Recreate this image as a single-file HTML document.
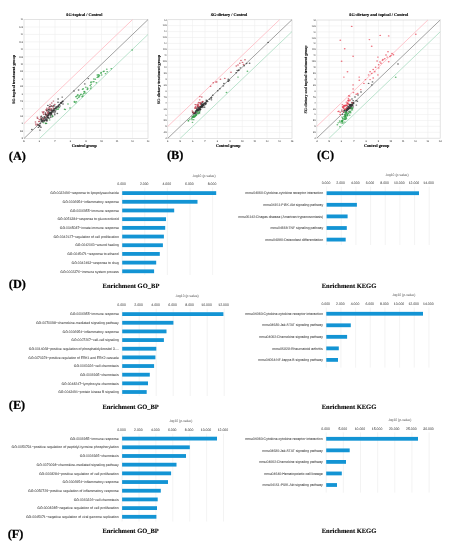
<!DOCTYPE html>
<html><head><meta charset="utf-8"><title>Figure</title>
<style>html,body{margin:0;padding:0;background:#fff;width:452px;height:550px;overflow:hidden}svg{display:block;filter:blur(0.25px)}text{text-rendering:geometricPrecision}</style>
</head><body>
<svg width="452" height="550" viewBox="0 0 452 550">
<rect width="452" height="550" fill="#fff"/>
<g stroke="#eeeeee" stroke-width="0.6">
<line x1="39.50" y1="19.6" x2="39.50" y2="138.5"/>
<line x1="55.00" y1="19.6" x2="55.00" y2="138.5"/>
<line x1="70.50" y1="19.6" x2="70.50" y2="138.5"/>
<line x1="86.00" y1="19.6" x2="86.00" y2="138.5"/>
<line x1="101.50" y1="19.6" x2="101.50" y2="138.5"/>
<line x1="117.00" y1="19.6" x2="117.00" y2="138.5"/>
<line x1="132.50" y1="19.6" x2="132.50" y2="138.5"/>
<line x1="24" y1="27.03" x2="148" y2="27.03"/>
<line x1="24" y1="34.46" x2="148" y2="34.46"/>
<line x1="24" y1="41.89" x2="148" y2="41.89"/>
<line x1="24" y1="49.33" x2="148" y2="49.33"/>
<line x1="24" y1="56.76" x2="148" y2="56.76"/>
<line x1="24" y1="64.19" x2="148" y2="64.19"/>
<line x1="24" y1="71.62" x2="148" y2="71.62"/>
<line x1="24" y1="79.05" x2="148" y2="79.05"/>
<line x1="24" y1="86.48" x2="148" y2="86.48"/>
<line x1="24" y1="93.91" x2="148" y2="93.91"/>
<line x1="24" y1="101.34" x2="148" y2="101.34"/>
<line x1="24" y1="108.78" x2="148" y2="108.78"/>
<line x1="24" y1="116.21" x2="148" y2="116.21"/>
<line x1="24" y1="123.64" x2="148" y2="123.64"/>
<line x1="24" y1="131.07" x2="148" y2="131.07"/>
</g>
<rect x="24" y="19.6" width="124" height="118.9" fill="none" stroke="#d8d8d8" stroke-width="0.7"/>
<line x1="24" y1="138.5" x2="148" y2="19.6" stroke="#8a8a8a" stroke-width="0.8"/>
<line x1="24" y1="123.64" x2="132.50" y2="19.6" stroke="#ffb8c0" stroke-width="0.8"/>
<line x1="39.50" y1="138.5" x2="148" y2="34.46" stroke="#a8dcc0" stroke-width="0.8"/>
<ellipse cx="47.61" cy="115.54" rx="0.9" ry="0.68" fill="#333333" fill-opacity="0.75"/>
<ellipse cx="47.75" cy="117.37" rx="0.9" ry="0.68" fill="#333333" fill-opacity="0.75"/>
<ellipse cx="44.48" cy="120.27" rx="0.9" ry="0.68" fill="#333333" fill-opacity="0.75"/>
<ellipse cx="53.97" cy="109.65" rx="0.9" ry="0.68" fill="#333333" fill-opacity="0.75"/>
<ellipse cx="53.62" cy="110.40" rx="0.9" ry="0.68" fill="#333333" fill-opacity="0.75"/>
<ellipse cx="50.64" cy="113.42" rx="0.9" ry="0.68" fill="#333333" fill-opacity="0.75"/>
<ellipse cx="41.05" cy="121.01" rx="0.9" ry="0.68" fill="#333333" fill-opacity="0.75"/>
<ellipse cx="51.15" cy="112.17" rx="0.9" ry="0.68" fill="#333333" fill-opacity="0.75"/>
<ellipse cx="40.94" cy="127.30" rx="0.9" ry="0.68" fill="#333333" fill-opacity="0.75"/>
<ellipse cx="44.66" cy="120.69" rx="0.9" ry="0.68" fill="#333333" fill-opacity="0.75"/>
<ellipse cx="50.22" cy="114.36" rx="0.9" ry="0.68" fill="#333333" fill-opacity="0.75"/>
<ellipse cx="51.22" cy="114.82" rx="0.9" ry="0.68" fill="#333333" fill-opacity="0.75"/>
<ellipse cx="50.24" cy="113.30" rx="0.9" ry="0.68" fill="#333333" fill-opacity="0.75"/>
<ellipse cx="45.73" cy="114.48" rx="0.9" ry="0.68" fill="#333333" fill-opacity="0.75"/>
<ellipse cx="51.39" cy="110.29" rx="0.9" ry="0.68" fill="#333333" fill-opacity="0.75"/>
<ellipse cx="45.92" cy="120.14" rx="0.9" ry="0.68" fill="#333333" fill-opacity="0.75"/>
<ellipse cx="47.20" cy="117.40" rx="0.9" ry="0.68" fill="#333333" fill-opacity="0.75"/>
<ellipse cx="51.74" cy="112.21" rx="0.9" ry="0.68" fill="#333333" fill-opacity="0.75"/>
<ellipse cx="46.72" cy="119.89" rx="0.9" ry="0.68" fill="#333333" fill-opacity="0.75"/>
<ellipse cx="46.38" cy="115.03" rx="0.9" ry="0.68" fill="#333333" fill-opacity="0.75"/>
<ellipse cx="45.04" cy="118.64" rx="0.9" ry="0.68" fill="#333333" fill-opacity="0.75"/>
<ellipse cx="50.78" cy="117.26" rx="0.9" ry="0.68" fill="#333333" fill-opacity="0.75"/>
<ellipse cx="49.03" cy="112.29" rx="0.9" ry="0.68" fill="#333333" fill-opacity="0.75"/>
<ellipse cx="39.43" cy="125.36" rx="0.9" ry="0.68" fill="#333333" fill-opacity="0.75"/>
<ellipse cx="48.31" cy="118.03" rx="0.9" ry="0.68" fill="#333333" fill-opacity="0.75"/>
<ellipse cx="51.11" cy="113.55" rx="0.9" ry="0.68" fill="#333333" fill-opacity="0.75"/>
<ellipse cx="41.99" cy="120.18" rx="0.9" ry="0.68" fill="#333333" fill-opacity="0.75"/>
<ellipse cx="51.91" cy="110.38" rx="0.9" ry="0.68" fill="#333333" fill-opacity="0.75"/>
<ellipse cx="55.50" cy="108.33" rx="0.9" ry="0.68" fill="#333333" fill-opacity="0.75"/>
<ellipse cx="49.35" cy="118.17" rx="0.9" ry="0.68" fill="#333333" fill-opacity="0.75"/>
<ellipse cx="51.66" cy="114.33" rx="0.9" ry="0.68" fill="#333333" fill-opacity="0.75"/>
<ellipse cx="46.69" cy="120.64" rx="0.9" ry="0.68" fill="#333333" fill-opacity="0.75"/>
<ellipse cx="44.30" cy="121.19" rx="0.9" ry="0.68" fill="#333333" fill-opacity="0.75"/>
<ellipse cx="54.79" cy="114.70" rx="0.9" ry="0.68" fill="#333333" fill-opacity="0.75"/>
<ellipse cx="42.02" cy="121.54" rx="0.9" ry="0.68" fill="#333333" fill-opacity="0.75"/>
<ellipse cx="55.51" cy="107.81" rx="0.9" ry="0.68" fill="#333333" fill-opacity="0.75"/>
<ellipse cx="39.97" cy="130.07" rx="0.9" ry="0.68" fill="#333333" fill-opacity="0.75"/>
<ellipse cx="50.46" cy="115.77" rx="0.9" ry="0.68" fill="#333333" fill-opacity="0.75"/>
<ellipse cx="43.59" cy="118.28" rx="0.9" ry="0.68" fill="#333333" fill-opacity="0.75"/>
<ellipse cx="53.92" cy="110.33" rx="0.9" ry="0.68" fill="#333333" fill-opacity="0.75"/>
<ellipse cx="49.94" cy="113.49" rx="0.9" ry="0.68" fill="#333333" fill-opacity="0.75"/>
<ellipse cx="56.21" cy="107.04" rx="0.9" ry="0.68" fill="#333333" fill-opacity="0.75"/>
<ellipse cx="51.21" cy="112.00" rx="0.9" ry="0.68" fill="#333333" fill-opacity="0.75"/>
<ellipse cx="41.51" cy="119.56" rx="0.9" ry="0.68" fill="#333333" fill-opacity="0.75"/>
<ellipse cx="53.24" cy="110.10" rx="0.9" ry="0.68" fill="#333333" fill-opacity="0.75"/>
<ellipse cx="39.62" cy="125.92" rx="0.9" ry="0.68" fill="#333333" fill-opacity="0.75"/>
<ellipse cx="52.72" cy="116.17" rx="0.9" ry="0.68" fill="#333333" fill-opacity="0.75"/>
<ellipse cx="47.94" cy="114.01" rx="0.9" ry="0.68" fill="#333333" fill-opacity="0.75"/>
<ellipse cx="42.70" cy="117.63" rx="0.9" ry="0.68" fill="#333333" fill-opacity="0.75"/>
<ellipse cx="51.37" cy="113.51" rx="0.9" ry="0.68" fill="#333333" fill-opacity="0.75"/>
<ellipse cx="50.31" cy="112.62" rx="0.9" ry="0.68" fill="#333333" fill-opacity="0.75"/>
<ellipse cx="49.36" cy="112.35" rx="0.9" ry="0.68" fill="#333333" fill-opacity="0.75"/>
<ellipse cx="45.72" cy="119.55" rx="0.9" ry="0.68" fill="#333333" fill-opacity="0.75"/>
<ellipse cx="53.64" cy="110.91" rx="0.9" ry="0.68" fill="#333333" fill-opacity="0.75"/>
<ellipse cx="44.71" cy="117.29" rx="0.9" ry="0.68" fill="#333333" fill-opacity="0.75"/>
<ellipse cx="55.61" cy="110.14" rx="0.9" ry="0.68" fill="#333333" fill-opacity="0.75"/>
<ellipse cx="42.38" cy="122.09" rx="0.9" ry="0.68" fill="#333333" fill-opacity="0.75"/>
<ellipse cx="48.11" cy="116.99" rx="0.9" ry="0.68" fill="#333333" fill-opacity="0.75"/>
<ellipse cx="55.33" cy="111.79" rx="0.9" ry="0.68" fill="#333333" fill-opacity="0.75"/>
<ellipse cx="54.66" cy="113.01" rx="0.9" ry="0.68" fill="#333333" fill-opacity="0.75"/>
<ellipse cx="45.14" cy="117.62" rx="0.9" ry="0.68" fill="#333333" fill-opacity="0.75"/>
<ellipse cx="54.05" cy="108.54" rx="0.9" ry="0.68" fill="#333333" fill-opacity="0.75"/>
<ellipse cx="50.41" cy="113.74" rx="0.9" ry="0.68" fill="#333333" fill-opacity="0.75"/>
<ellipse cx="49.51" cy="113.57" rx="0.9" ry="0.68" fill="#333333" fill-opacity="0.75"/>
<ellipse cx="47.98" cy="115.74" rx="0.9" ry="0.68" fill="#333333" fill-opacity="0.75"/>
<ellipse cx="51.46" cy="113.06" rx="0.9" ry="0.68" fill="#333333" fill-opacity="0.75"/>
<ellipse cx="52.35" cy="110.86" rx="0.9" ry="0.68" fill="#333333" fill-opacity="0.75"/>
<ellipse cx="58.15" cy="105.88" rx="0.9" ry="0.68" fill="#333333" fill-opacity="0.75"/>
<ellipse cx="46.81" cy="118.41" rx="0.9" ry="0.68" fill="#333333" fill-opacity="0.75"/>
<ellipse cx="48.74" cy="113.48" rx="0.9" ry="0.68" fill="#333333" fill-opacity="0.75"/>
<ellipse cx="47.23" cy="116.20" rx="0.9" ry="0.68" fill="#333333" fill-opacity="0.75"/>
<ellipse cx="57.34" cy="113.52" rx="0.9" ry="0.68" fill="#333333" fill-opacity="0.75"/>
<ellipse cx="43.57" cy="120.05" rx="0.9" ry="0.68" fill="#333333" fill-opacity="0.75"/>
<ellipse cx="50.65" cy="113.27" rx="0.9" ry="0.68" fill="#333333" fill-opacity="0.75"/>
<ellipse cx="46.80" cy="115.98" rx="0.9" ry="0.68" fill="#333333" fill-opacity="0.75"/>
<ellipse cx="58.60" cy="105.82" rx="0.9" ry="0.68" fill="#333333" fill-opacity="0.75"/>
<ellipse cx="62.67" cy="101.76" rx="0.9" ry="0.68" fill="#333333" fill-opacity="0.75"/>
<ellipse cx="48.58" cy="113.99" rx="0.9" ry="0.68" fill="#333333" fill-opacity="0.75"/>
<ellipse cx="31.88" cy="129.47" rx="0.9" ry="0.68" fill="#333333" fill-opacity="0.75"/>
<ellipse cx="48.57" cy="111.28" rx="0.9" ry="0.68" fill="#333333" fill-opacity="0.75"/>
<ellipse cx="54.18" cy="110.91" rx="0.9" ry="0.68" fill="#333333" fill-opacity="0.75"/>
<ellipse cx="39.68" cy="125.12" rx="0.9" ry="0.68" fill="#333333" fill-opacity="0.75"/>
<ellipse cx="56.70" cy="106.89" rx="0.9" ry="0.68" fill="#333333" fill-opacity="0.75"/>
<ellipse cx="48.72" cy="115.18" rx="0.9" ry="0.68" fill="#333333" fill-opacity="0.75"/>
<ellipse cx="38.41" cy="127.39" rx="0.9" ry="0.68" fill="#333333" fill-opacity="0.75"/>
<ellipse cx="58.02" cy="102.29" rx="0.9" ry="0.68" fill="#333333" fill-opacity="0.75"/>
<ellipse cx="57.84" cy="107.22" rx="0.9" ry="0.68" fill="#333333" fill-opacity="0.75"/>
<ellipse cx="58.25" cy="106.51" rx="0.9" ry="0.68" fill="#333333" fill-opacity="0.75"/>
<ellipse cx="48.23" cy="117.61" rx="0.9" ry="0.68" fill="#333333" fill-opacity="0.75"/>
<ellipse cx="42.82" cy="120.67" rx="0.9" ry="0.68" fill="#333333" fill-opacity="0.75"/>
<ellipse cx="40.29" cy="123.53" rx="0.9" ry="0.68" fill="#333333" fill-opacity="0.75"/>
<ellipse cx="39.61" cy="126.25" rx="0.9" ry="0.68" fill="#333333" fill-opacity="0.75"/>
<ellipse cx="45.88" cy="123.49" rx="0.9" ry="0.68" fill="#333333" fill-opacity="0.75"/>
<ellipse cx="62.20" cy="97.08" rx="0.9" ry="0.68" fill="#333333" fill-opacity="0.75"/>
<ellipse cx="43.13" cy="121.32" rx="0.9" ry="0.68" fill="#333333" fill-opacity="0.75"/>
<ellipse cx="38.32" cy="125.30" rx="0.9" ry="0.68" fill="#333333" fill-opacity="0.75"/>
<ellipse cx="37.79" cy="124.57" rx="0.9" ry="0.68" fill="#333333" fill-opacity="0.75"/>
<ellipse cx="51.77" cy="109.16" rx="0.9" ry="0.68" fill="#333333" fill-opacity="0.75"/>
<ellipse cx="46.95" cy="119.74" rx="0.9" ry="0.68" fill="#333333" fill-opacity="0.75"/>
<ellipse cx="52.74" cy="111.41" rx="0.9" ry="0.68" fill="#333333" fill-opacity="0.75"/>
<ellipse cx="52.99" cy="112.34" rx="0.9" ry="0.68" fill="#333333" fill-opacity="0.75"/>
<ellipse cx="61.29" cy="102.74" rx="0.9" ry="0.68" fill="#333333" fill-opacity="0.75"/>
<ellipse cx="46.91" cy="120.92" rx="0.9" ry="0.68" fill="#333333" fill-opacity="0.75"/>
<ellipse cx="50.04" cy="104.36" rx="0.9" ry="0.68" fill="#b04050" fill-opacity="0.75"/>
<ellipse cx="42.34" cy="111.83" rx="0.9" ry="0.68" fill="#b04050" fill-opacity="0.75"/>
<ellipse cx="51.07" cy="108.62" rx="0.9" ry="0.68" fill="#b04050" fill-opacity="0.75"/>
<ellipse cx="37.31" cy="117.11" rx="0.9" ry="0.68" fill="#b04050" fill-opacity="0.75"/>
<ellipse cx="46.03" cy="114.72" rx="0.9" ry="0.68" fill="#b04050" fill-opacity="0.75"/>
<ellipse cx="48.33" cy="109.50" rx="0.9" ry="0.68" fill="#b04050" fill-opacity="0.75"/>
<ellipse cx="53.44" cy="108.85" rx="0.9" ry="0.68" fill="#b04050" fill-opacity="0.75"/>
<ellipse cx="51.76" cy="103.01" rx="0.9" ry="0.68" fill="#b04050" fill-opacity="0.75"/>
<ellipse cx="53.23" cy="106.56" rx="0.9" ry="0.68" fill="#b04050" fill-opacity="0.75"/>
<ellipse cx="43.02" cy="112.78" rx="0.9" ry="0.68" fill="#b04050" fill-opacity="0.75"/>
<ellipse cx="47.01" cy="111.61" rx="0.9" ry="0.68" fill="#b04050" fill-opacity="0.75"/>
<ellipse cx="53.10" cy="106.93" rx="0.9" ry="0.68" fill="#b04050" fill-opacity="0.75"/>
<ellipse cx="35.80" cy="123.88" rx="0.9" ry="0.68" fill="#b04050" fill-opacity="0.75"/>
<ellipse cx="37.85" cy="118.33" rx="0.9" ry="0.68" fill="#b04050" fill-opacity="0.75"/>
<ellipse cx="47.95" cy="112.90" rx="0.9" ry="0.68" fill="#b04050" fill-opacity="0.75"/>
<ellipse cx="46.43" cy="110.06" rx="0.9" ry="0.68" fill="#b04050" fill-opacity="0.75"/>
<ellipse cx="46.84" cy="108.20" rx="0.9" ry="0.68" fill="#b04050" fill-opacity="0.75"/>
<ellipse cx="46.19" cy="109.68" rx="0.9" ry="0.68" fill="#b04050" fill-opacity="0.75"/>
<ellipse cx="53.41" cy="101.06" rx="0.9" ry="0.68" fill="#b04050" fill-opacity="0.75"/>
<ellipse cx="43.35" cy="112.87" rx="0.9" ry="0.68" fill="#b04050" fill-opacity="0.75"/>
<ellipse cx="37.75" cy="124.08" rx="0.9" ry="0.68" fill="#b04050" fill-opacity="0.75"/>
<ellipse cx="37.35" cy="118.07" rx="0.9" ry="0.68" fill="#b04050" fill-opacity="0.75"/>
<ellipse cx="40.75" cy="118.02" rx="0.9" ry="0.68" fill="#b04050" fill-opacity="0.75"/>
<ellipse cx="45.58" cy="113.44" rx="0.9" ry="0.68" fill="#b04050" fill-opacity="0.75"/>
<ellipse cx="43.72" cy="114.44" rx="0.9" ry="0.68" fill="#b04050" fill-opacity="0.75"/>
<ellipse cx="54.80" cy="104.38" rx="0.9" ry="0.68" fill="#b04050" fill-opacity="0.75"/>
<ellipse cx="48.94" cy="107.15" rx="0.9" ry="0.68" fill="#b04050" fill-opacity="0.75"/>
<ellipse cx="45.55" cy="117.09" rx="0.9" ry="0.68" fill="#b04050" fill-opacity="0.75"/>
<ellipse cx="43.89" cy="111.78" rx="0.9" ry="0.68" fill="#b04050" fill-opacity="0.75"/>
<ellipse cx="38.82" cy="121.61" rx="0.9" ry="0.68" fill="#b04050" fill-opacity="0.75"/>
<ellipse cx="51.16" cy="105.65" rx="0.9" ry="0.68" fill="#b04050" fill-opacity="0.75"/>
<ellipse cx="46.51" cy="110.07" rx="0.9" ry="0.68" fill="#b04050" fill-opacity="0.75"/>
<ellipse cx="47.25" cy="115.26" rx="0.9" ry="0.68" fill="#b04050" fill-opacity="0.75"/>
<ellipse cx="39.20" cy="121.37" rx="0.9" ry="0.68" fill="#b04050" fill-opacity="0.75"/>
<ellipse cx="50.77" cy="110.06" rx="0.9" ry="0.68" fill="#b04050" fill-opacity="0.75"/>
<ellipse cx="42.28" cy="118.81" rx="0.9" ry="0.68" fill="#b04050" fill-opacity="0.75"/>
<ellipse cx="39.35" cy="119.67" rx="0.9" ry="0.68" fill="#b04050" fill-opacity="0.75"/>
<ellipse cx="40.99" cy="116.67" rx="0.9" ry="0.68" fill="#b04050" fill-opacity="0.75"/>
<ellipse cx="35.50" cy="122.04" rx="0.9" ry="0.68" fill="#b04050" fill-opacity="0.75"/>
<ellipse cx="43.49" cy="119.07" rx="0.9" ry="0.68" fill="#b04050" fill-opacity="0.75"/>
<ellipse cx="49.84" cy="110.08" rx="0.9" ry="0.68" fill="#b04050" fill-opacity="0.75"/>
<ellipse cx="36.11" cy="125.04" rx="0.9" ry="0.68" fill="#b04050" fill-opacity="0.75"/>
<ellipse cx="47.83" cy="112.56" rx="0.9" ry="0.68" fill="#b04050" fill-opacity="0.75"/>
<ellipse cx="50.10" cy="106.80" rx="0.9" ry="0.68" fill="#b04050" fill-opacity="0.75"/>
<ellipse cx="49.57" cy="108.55" rx="0.9" ry="0.68" fill="#b04050" fill-opacity="0.75"/>
<ellipse cx="51.90" cy="106.27" rx="0.9" ry="0.68" fill="#333333" fill-opacity="0.75"/>
<ellipse cx="47.80" cy="115.39" rx="0.9" ry="0.68" fill="#333333" fill-opacity="0.75"/>
<ellipse cx="49.87" cy="106.48" rx="0.9" ry="0.68" fill="#333333" fill-opacity="0.75"/>
<ellipse cx="44.32" cy="116.56" rx="0.9" ry="0.68" fill="#333333" fill-opacity="0.75"/>
<ellipse cx="54.72" cy="108.75" rx="0.9" ry="0.68" fill="#333333" fill-opacity="0.75"/>
<ellipse cx="47.88" cy="105.41" rx="0.9" ry="0.68" fill="#333333" fill-opacity="0.75"/>
<ellipse cx="41.39" cy="116.27" rx="0.9" ry="0.68" fill="#333333" fill-opacity="0.75"/>
<ellipse cx="54.47" cy="105.89" rx="0.9" ry="0.68" fill="#333333" fill-opacity="0.75"/>
<ellipse cx="48.31" cy="109.06" rx="0.9" ry="0.68" fill="#333333" fill-opacity="0.75"/>
<ellipse cx="41.49" cy="118.26" rx="0.9" ry="0.68" fill="#333333" fill-opacity="0.75"/>
<ellipse cx="47.06" cy="110.47" rx="0.9" ry="0.68" fill="#333333" fill-opacity="0.75"/>
<ellipse cx="45.54" cy="114.66" rx="0.9" ry="0.68" fill="#333333" fill-opacity="0.75"/>
<ellipse cx="40.98" cy="119.47" rx="0.9" ry="0.68" fill="#333333" fill-opacity="0.75"/>
<ellipse cx="49.85" cy="109.73" rx="0.9" ry="0.68" fill="#333333" fill-opacity="0.75"/>
<ellipse cx="41.73" cy="120.03" rx="0.9" ry="0.68" fill="#333333" fill-opacity="0.75"/>
<ellipse cx="58.10" cy="99.04" rx="0.9" ry="0.68" fill="#333333" fill-opacity="0.75"/>
<ellipse cx="48.66" cy="114.56" rx="0.9" ry="0.68" fill="#333333" fill-opacity="0.75"/>
<ellipse cx="48.59" cy="109.92" rx="0.9" ry="0.68" fill="#333333" fill-opacity="0.75"/>
<ellipse cx="53.53" cy="105.33" rx="0.9" ry="0.68" fill="#333333" fill-opacity="0.75"/>
<ellipse cx="45.39" cy="112.88" rx="0.9" ry="0.68" fill="#333333" fill-opacity="0.75"/>
<ellipse cx="43.59" cy="122.64" rx="0.9" ry="0.68" fill="#30a045" fill-opacity="0.75"/>
<ellipse cx="52.38" cy="116.79" rx="0.9" ry="0.68" fill="#30a045" fill-opacity="0.75"/>
<ellipse cx="56.26" cy="109.34" rx="0.9" ry="0.68" fill="#30a045" fill-opacity="0.75"/>
<ellipse cx="45.69" cy="123.15" rx="0.9" ry="0.68" fill="#30a045" fill-opacity="0.75"/>
<ellipse cx="52.25" cy="115.60" rx="0.9" ry="0.68" fill="#30a045" fill-opacity="0.75"/>
<ellipse cx="49.58" cy="119.88" rx="0.9" ry="0.68" fill="#30a045" fill-opacity="0.75"/>
<ellipse cx="59.34" cy="107.53" rx="0.9" ry="0.68" fill="#30a045" fill-opacity="0.75"/>
<ellipse cx="46.50" cy="123.39" rx="0.9" ry="0.68" fill="#30a045" fill-opacity="0.75"/>
<ellipse cx="57.72" cy="109.16" rx="0.9" ry="0.68" fill="#30a045" fill-opacity="0.75"/>
<ellipse cx="58.18" cy="108.98" rx="0.9" ry="0.68" fill="#30a045" fill-opacity="0.75"/>
<ellipse cx="59.17" cy="104.59" rx="0.9" ry="0.68" fill="#333333" fill-opacity="0.75"/>
<ellipse cx="56.18" cy="108.21" rx="0.9" ry="0.68" fill="#333333" fill-opacity="0.75"/>
<ellipse cx="61.06" cy="102.58" rx="0.9" ry="0.68" fill="#333333" fill-opacity="0.75"/>
<ellipse cx="59.51" cy="104.55" rx="0.9" ry="0.68" fill="#333333" fill-opacity="0.75"/>
<ellipse cx="62.27" cy="101.53" rx="0.9" ry="0.68" fill="#333333" fill-opacity="0.75"/>
<ellipse cx="62.68" cy="101.26" rx="0.9" ry="0.68" fill="#333333" fill-opacity="0.75"/>
<ellipse cx="60.45" cy="102.97" rx="0.9" ry="0.68" fill="#333333" fill-opacity="0.75"/>
<ellipse cx="61.31" cy="103.34" rx="0.9" ry="0.68" fill="#333333" fill-opacity="0.75"/>
<ellipse cx="91.04" cy="87.02" rx="0.9" ry="0.68" fill="#30a045" fill-opacity="0.75"/>
<ellipse cx="85.94" cy="93.10" rx="0.9" ry="0.68" fill="#30a045" fill-opacity="0.75"/>
<ellipse cx="82.72" cy="96.21" rx="0.9" ry="0.68" fill="#30a045" fill-opacity="0.75"/>
<ellipse cx="98.80" cy="76.81" rx="0.9" ry="0.68" fill="#30a045" fill-opacity="0.75"/>
<ellipse cx="80.69" cy="94.74" rx="0.9" ry="0.68" fill="#30a045" fill-opacity="0.75"/>
<ellipse cx="105.52" cy="73.67" rx="0.9" ry="0.68" fill="#30a045" fill-opacity="0.75"/>
<ellipse cx="101.67" cy="74.95" rx="0.9" ry="0.68" fill="#30a045" fill-opacity="0.75"/>
<ellipse cx="90.87" cy="82.31" rx="0.9" ry="0.68" fill="#30a045" fill-opacity="0.75"/>
<ellipse cx="87.47" cy="88.00" rx="0.9" ry="0.68" fill="#30a045" fill-opacity="0.75"/>
<ellipse cx="97.29" cy="75.05" rx="0.9" ry="0.68" fill="#30a045" fill-opacity="0.75"/>
<ellipse cx="85.80" cy="87.19" rx="0.9" ry="0.68" fill="#30a045" fill-opacity="0.75"/>
<ellipse cx="97.93" cy="77.02" rx="0.9" ry="0.68" fill="#30a045" fill-opacity="0.75"/>
<ellipse cx="87.86" cy="88.81" rx="0.9" ry="0.68" fill="#30a045" fill-opacity="0.75"/>
<ellipse cx="76.19" cy="101.62" rx="0.9" ry="0.68" fill="#30a045" fill-opacity="0.75"/>
<ellipse cx="76.73" cy="96.56" rx="0.9" ry="0.68" fill="#30a045" fill-opacity="0.75"/>
<ellipse cx="82.89" cy="94.94" rx="0.9" ry="0.68" fill="#30a045" fill-opacity="0.75"/>
<ellipse cx="77.19" cy="95.37" rx="0.9" ry="0.68" fill="#30a045" fill-opacity="0.75"/>
<ellipse cx="103.39" cy="71.53" rx="0.9" ry="0.68" fill="#30a045" fill-opacity="0.75"/>
<ellipse cx="83.77" cy="93.51" rx="0.9" ry="0.68" fill="#30a045" fill-opacity="0.75"/>
<ellipse cx="84.14" cy="91.55" rx="0.9" ry="0.68" fill="#30a045" fill-opacity="0.75"/>
<ellipse cx="79.62" cy="95.98" rx="0.9" ry="0.68" fill="#30a045" fill-opacity="0.75"/>
<ellipse cx="83.15" cy="88.77" rx="0.9" ry="0.68" fill="#30a045" fill-opacity="0.75"/>
<ellipse cx="106.79" cy="69.18" rx="0.9" ry="0.68" fill="#30a045" fill-opacity="0.75"/>
<ellipse cx="82.52" cy="89.34" rx="0.9" ry="0.68" fill="#30a045" fill-opacity="0.75"/>
<ellipse cx="84.69" cy="91.78" rx="0.9" ry="0.68" fill="#30a045" fill-opacity="0.75"/>
<ellipse cx="74.41" cy="101.45" rx="0.9" ry="0.68" fill="#30a045" fill-opacity="0.75"/>
<ellipse cx="90.19" cy="85.42" rx="0.9" ry="0.68" fill="#30a045" fill-opacity="0.75"/>
<ellipse cx="81.07" cy="94.15" rx="0.9" ry="0.68" fill="#30a045" fill-opacity="0.75"/>
<ellipse cx="74.54" cy="102.20" rx="0.9" ry="0.68" fill="#30a045" fill-opacity="0.75"/>
<ellipse cx="77.37" cy="98.49" rx="0.9" ry="0.68" fill="#30a045" fill-opacity="0.75"/>
<ellipse cx="75.76" cy="102.82" rx="0.9" ry="0.68" fill="#30a045" fill-opacity="0.75"/>
<ellipse cx="84.51" cy="92.87" rx="0.9" ry="0.68" fill="#30a045" fill-opacity="0.75"/>
<ellipse cx="93.89" cy="81.68" rx="0.9" ry="0.68" fill="#30a045" fill-opacity="0.75"/>
<ellipse cx="99.39" cy="75.46" rx="0.9" ry="0.68" fill="#30a045" fill-opacity="0.75"/>
<ellipse cx="98.24" cy="74.92" rx="0.9" ry="0.68" fill="#30a045" fill-opacity="0.75"/>
<ellipse cx="87.36" cy="89.45" rx="0.9" ry="0.68" fill="#30a045" fill-opacity="0.75"/>
<ellipse cx="107.19" cy="71.75" rx="0.9" ry="0.68" fill="#30a045" fill-opacity="0.75"/>
<ellipse cx="98.51" cy="76.41" rx="0.9" ry="0.68" fill="#30a045" fill-opacity="0.75"/>
<ellipse cx="75.83" cy="96.72" rx="0.9" ry="0.68" fill="#30a045" fill-opacity="0.75"/>
<ellipse cx="104.10" cy="71.16" rx="0.9" ry="0.68" fill="#30a045" fill-opacity="0.75"/>
<ellipse cx="98.83" cy="74.84" rx="0.9" ry="0.68" fill="#30a045" fill-opacity="0.75"/>
<ellipse cx="79.02" cy="95.98" rx="0.9" ry="0.68" fill="#30a045" fill-opacity="0.75"/>
<ellipse cx="91.18" cy="82.00" rx="0.9" ry="0.68" fill="#30a045" fill-opacity="0.75"/>
<ellipse cx="101.19" cy="72.47" rx="0.9" ry="0.68" fill="#30a045" fill-opacity="0.75"/>
<ellipse cx="93.84" cy="79.03" rx="0.9" ry="0.68" fill="#30a045" fill-opacity="0.75"/>
<ellipse cx="97.13" cy="77.35" rx="0.9" ry="0.68" fill="#30a045" fill-opacity="0.75"/>
<ellipse cx="82.04" cy="96.74" rx="0.9" ry="0.68" fill="#30a045" fill-opacity="0.75"/>
<ellipse cx="78.81" cy="97.39" rx="0.9" ry="0.68" fill="#30a045" fill-opacity="0.75"/>
<ellipse cx="77.87" cy="94.76" rx="0.9" ry="0.68" fill="#30a045" fill-opacity="0.75"/>
<ellipse cx="92.99" cy="81.81" rx="0.9" ry="0.68" fill="#30a045" fill-opacity="0.75"/>
<ellipse cx="95.24" cy="79.26" rx="0.9" ry="0.68" fill="#30a045" fill-opacity="0.75"/>
<ellipse cx="90.68" cy="88.66" rx="0.9" ry="0.68" fill="#30a045" fill-opacity="0.75"/>
<ellipse cx="100.96" cy="73.28" rx="0.9" ry="0.68" fill="#30a045" fill-opacity="0.75"/>
<ellipse cx="91.14" cy="84.28" rx="0.9" ry="0.68" fill="#30a045" fill-opacity="0.75"/>
<ellipse cx="96.35" cy="82.77" rx="0.9" ry="0.68" fill="#30a045" fill-opacity="0.75"/>
<ellipse cx="111.30" cy="68.80" rx="0.9" ry="0.68" fill="#30a045" fill-opacity="0.75"/>
<ellipse cx="132.20" cy="50.00" rx="0.9" ry="0.68" fill="#30a045" fill-opacity="0.75"/>
<ellipse cx="88.30" cy="78.60" rx="0.9" ry="0.68" fill="#333333" fill-opacity="0.75"/>
<ellipse cx="84.80" cy="83.90" rx="0.9" ry="0.68" fill="#333333" fill-opacity="0.75"/>
<ellipse cx="78.60" cy="90.00" rx="0.9" ry="0.68" fill="#333333" fill-opacity="0.75"/>
<ellipse cx="74.00" cy="91.00" rx="0.9" ry="0.68" fill="#333333" fill-opacity="0.75"/>
<ellipse cx="65.30" cy="109.60" rx="0.9" ry="0.68" fill="#30a045" fill-opacity="0.75"/>
<ellipse cx="64.60" cy="109.30" rx="0.9" ry="0.68" fill="#30a045" fill-opacity="0.75"/>
<ellipse cx="70.00" cy="108.00" rx="0.9" ry="0.68" fill="#30a045" fill-opacity="0.75"/>
<ellipse cx="68.00" cy="104.00" rx="0.9" ry="0.68" fill="#30a045" fill-opacity="0.75"/>
<ellipse cx="60.00" cy="106.00" rx="0.9" ry="0.68" fill="#333333" fill-opacity="0.75"/>
<ellipse cx="63.00" cy="104.00" rx="0.9" ry="0.68" fill="#333333" fill-opacity="0.75"/>
<text x="24.00" y="141.90" font-family="'Liberation Sans', sans-serif" font-size="2.4" font-weight="normal" text-anchor="middle" fill="#555" stroke="#555" stroke-width="0.05">5</text>
<text x="39.50" y="141.90" font-family="'Liberation Sans', sans-serif" font-size="2.4" font-weight="normal" text-anchor="middle" fill="#555" stroke="#555" stroke-width="0.05">6</text>
<text x="55.00" y="141.90" font-family="'Liberation Sans', sans-serif" font-size="2.4" font-weight="normal" text-anchor="middle" fill="#555" stroke="#555" stroke-width="0.05">7</text>
<text x="70.50" y="141.90" font-family="'Liberation Sans', sans-serif" font-size="2.4" font-weight="normal" text-anchor="middle" fill="#555" stroke="#555" stroke-width="0.05">8</text>
<text x="86.00" y="141.90" font-family="'Liberation Sans', sans-serif" font-size="2.4" font-weight="normal" text-anchor="middle" fill="#555" stroke="#555" stroke-width="0.05">9</text>
<text x="101.50" y="141.90" font-family="'Liberation Sans', sans-serif" font-size="2.4" font-weight="normal" text-anchor="middle" fill="#555" stroke="#555" stroke-width="0.05">10</text>
<text x="117.00" y="141.90" font-family="'Liberation Sans', sans-serif" font-size="2.4" font-weight="normal" text-anchor="middle" fill="#555" stroke="#555" stroke-width="0.05">11</text>
<text x="132.50" y="141.90" font-family="'Liberation Sans', sans-serif" font-size="2.4" font-weight="normal" text-anchor="middle" fill="#555" stroke="#555" stroke-width="0.05">12</text>
<text x="148.00" y="141.90" font-family="'Liberation Sans', sans-serif" font-size="2.4" font-weight="normal" text-anchor="middle" fill="#555" stroke="#555" stroke-width="0.05">13</text>
<text x="22.80" y="139.35" font-family="'Liberation Sans', sans-serif" font-size="2.4" font-weight="normal" text-anchor="end" fill="#555" stroke="#555" stroke-width="0.05" transform="translate(22.80,0) scale(0.8,1) translate(-22.80,0)">5</text>
<text x="22.80" y="131.92" font-family="'Liberation Sans', sans-serif" font-size="2.4" font-weight="normal" text-anchor="end" fill="#555" stroke="#555" stroke-width="0.05" transform="translate(22.80,0) scale(0.8,1) translate(-22.80,0)">5.5</text>
<text x="22.80" y="124.49" font-family="'Liberation Sans', sans-serif" font-size="2.4" font-weight="normal" text-anchor="end" fill="#555" stroke="#555" stroke-width="0.05" transform="translate(22.80,0) scale(0.8,1) translate(-22.80,0)">6</text>
<text x="22.80" y="117.06" font-family="'Liberation Sans', sans-serif" font-size="2.4" font-weight="normal" text-anchor="end" fill="#555" stroke="#555" stroke-width="0.05" transform="translate(22.80,0) scale(0.8,1) translate(-22.80,0)">6.5</text>
<text x="22.80" y="109.62" font-family="'Liberation Sans', sans-serif" font-size="2.4" font-weight="normal" text-anchor="end" fill="#555" stroke="#555" stroke-width="0.05" transform="translate(22.80,0) scale(0.8,1) translate(-22.80,0)">7</text>
<text x="22.80" y="102.19" font-family="'Liberation Sans', sans-serif" font-size="2.4" font-weight="normal" text-anchor="end" fill="#555" stroke="#555" stroke-width="0.05" transform="translate(22.80,0) scale(0.8,1) translate(-22.80,0)">7.5</text>
<text x="22.80" y="94.76" font-family="'Liberation Sans', sans-serif" font-size="2.4" font-weight="normal" text-anchor="end" fill="#555" stroke="#555" stroke-width="0.05" transform="translate(22.80,0) scale(0.8,1) translate(-22.80,0)">8</text>
<text x="22.80" y="87.33" font-family="'Liberation Sans', sans-serif" font-size="2.4" font-weight="normal" text-anchor="end" fill="#555" stroke="#555" stroke-width="0.05" transform="translate(22.80,0) scale(0.8,1) translate(-22.80,0)">8.5</text>
<text x="22.80" y="79.90" font-family="'Liberation Sans', sans-serif" font-size="2.4" font-weight="normal" text-anchor="end" fill="#555" stroke="#555" stroke-width="0.05" transform="translate(22.80,0) scale(0.8,1) translate(-22.80,0)">9</text>
<text x="22.80" y="72.47" font-family="'Liberation Sans', sans-serif" font-size="2.4" font-weight="normal" text-anchor="end" fill="#555" stroke="#555" stroke-width="0.05" transform="translate(22.80,0) scale(0.8,1) translate(-22.80,0)">9.5</text>
<text x="22.80" y="65.04" font-family="'Liberation Sans', sans-serif" font-size="2.4" font-weight="normal" text-anchor="end" fill="#555" stroke="#555" stroke-width="0.05" transform="translate(22.80,0) scale(0.8,1) translate(-22.80,0)">10</text>
<text x="22.80" y="57.61" font-family="'Liberation Sans', sans-serif" font-size="2.4" font-weight="normal" text-anchor="end" fill="#555" stroke="#555" stroke-width="0.05" transform="translate(22.80,0) scale(0.8,1) translate(-22.80,0)">10.5</text>
<text x="22.80" y="50.17" font-family="'Liberation Sans', sans-serif" font-size="2.4" font-weight="normal" text-anchor="end" fill="#555" stroke="#555" stroke-width="0.05" transform="translate(22.80,0) scale(0.8,1) translate(-22.80,0)">11</text>
<text x="22.80" y="42.74" font-family="'Liberation Sans', sans-serif" font-size="2.4" font-weight="normal" text-anchor="end" fill="#555" stroke="#555" stroke-width="0.05" transform="translate(22.80,0) scale(0.8,1) translate(-22.80,0)">11.5</text>
<text x="22.80" y="35.31" font-family="'Liberation Sans', sans-serif" font-size="2.4" font-weight="normal" text-anchor="end" fill="#555" stroke="#555" stroke-width="0.05" transform="translate(22.80,0) scale(0.8,1) translate(-22.80,0)">12</text>
<text x="22.80" y="27.88" font-family="'Liberation Sans', sans-serif" font-size="2.4" font-weight="normal" text-anchor="end" fill="#555" stroke="#555" stroke-width="0.05" transform="translate(22.80,0) scale(0.8,1) translate(-22.80,0)">12.5</text>
<text x="22.80" y="20.45" font-family="'Liberation Sans', sans-serif" font-size="2.4" font-weight="normal" text-anchor="end" fill="#555" stroke="#555" stroke-width="0.05" transform="translate(22.80,0) scale(0.8,1) translate(-22.80,0)">13</text>
<text x="84.20" y="15.70" font-family="'Liberation Serif', serif" font-size="4.15" font-weight="bold" text-anchor="middle" fill="#000" textLength="36.2" lengthAdjust="spacingAndGlyphs" stroke="#000" stroke-width="0.1">SG-topical / Control</text>
<text x="84.20" y="147.00" font-family="'Liberation Serif', serif" font-size="4.15" font-weight="bold" text-anchor="middle" fill="#000" textLength="25.1" lengthAdjust="spacingAndGlyphs" stroke="#000" stroke-width="0.1">Control group</text>
<g stroke="#eeeeee" stroke-width="0.6">
<line x1="180.13" y1="19.7" x2="180.13" y2="138.4"/>
<line x1="192.56" y1="19.7" x2="192.56" y2="138.4"/>
<line x1="204.99" y1="19.7" x2="204.99" y2="138.4"/>
<line x1="217.42" y1="19.7" x2="217.42" y2="138.4"/>
<line x1="229.85" y1="19.7" x2="229.85" y2="138.4"/>
<line x1="242.28" y1="19.7" x2="242.28" y2="138.4"/>
<line x1="254.71" y1="19.7" x2="254.71" y2="138.4"/>
<line x1="267.14" y1="19.7" x2="267.14" y2="138.4"/>
<line x1="279.57" y1="19.7" x2="279.57" y2="138.4"/>
<line x1="167.7" y1="25.63" x2="292" y2="25.63"/>
<line x1="167.7" y1="31.57" x2="292" y2="31.57"/>
<line x1="167.7" y1="37.50" x2="292" y2="37.50"/>
<line x1="167.7" y1="43.44" x2="292" y2="43.44"/>
<line x1="167.7" y1="49.38" x2="292" y2="49.38"/>
<line x1="167.7" y1="55.31" x2="292" y2="55.31"/>
<line x1="167.7" y1="61.25" x2="292" y2="61.25"/>
<line x1="167.7" y1="67.18" x2="292" y2="67.18"/>
<line x1="167.7" y1="73.11" x2="292" y2="73.11"/>
<line x1="167.7" y1="79.05" x2="292" y2="79.05"/>
<line x1="167.7" y1="84.98" x2="292" y2="84.98"/>
<line x1="167.7" y1="90.92" x2="292" y2="90.92"/>
<line x1="167.7" y1="96.86" x2="292" y2="96.86"/>
<line x1="167.7" y1="102.79" x2="292" y2="102.79"/>
<line x1="167.7" y1="108.73" x2="292" y2="108.73"/>
<line x1="167.7" y1="114.66" x2="292" y2="114.66"/>
<line x1="167.7" y1="120.60" x2="292" y2="120.60"/>
<line x1="167.7" y1="126.53" x2="292" y2="126.53"/>
<line x1="167.7" y1="132.47" x2="292" y2="132.47"/>
</g>
<rect x="167.7" y="19.7" width="124.30000000000001" height="118.7" fill="none" stroke="#d8d8d8" stroke-width="0.7"/>
<line x1="167.7" y1="138.4" x2="292" y2="19.7" stroke="#8a8a8a" stroke-width="0.8"/>
<line x1="167.7" y1="126.53" x2="279.57" y2="19.7" stroke="#ffb8c0" stroke-width="0.8"/>
<line x1="180.13" y1="138.4" x2="292" y2="31.57" stroke="#a8dcc0" stroke-width="0.8"/>
<ellipse cx="199.76" cy="109.31" rx="0.9" ry="0.68" fill="#333333" fill-opacity="0.75"/>
<ellipse cx="202.89" cy="104.60" rx="0.9" ry="0.68" fill="#333333" fill-opacity="0.75"/>
<ellipse cx="199.66" cy="109.27" rx="0.9" ry="0.68" fill="#333333" fill-opacity="0.75"/>
<ellipse cx="199.30" cy="112.78" rx="0.9" ry="0.68" fill="#333333" fill-opacity="0.75"/>
<ellipse cx="195.99" cy="111.68" rx="0.9" ry="0.68" fill="#333333" fill-opacity="0.75"/>
<ellipse cx="193.85" cy="113.48" rx="0.9" ry="0.68" fill="#333333" fill-opacity="0.75"/>
<ellipse cx="200.62" cy="109.44" rx="0.9" ry="0.68" fill="#333333" fill-opacity="0.75"/>
<ellipse cx="198.99" cy="109.36" rx="0.9" ry="0.68" fill="#333333" fill-opacity="0.75"/>
<ellipse cx="201.90" cy="105.15" rx="0.9" ry="0.68" fill="#333333" fill-opacity="0.75"/>
<ellipse cx="199.87" cy="109.35" rx="0.9" ry="0.68" fill="#333333" fill-opacity="0.75"/>
<ellipse cx="199.43" cy="108.56" rx="0.9" ry="0.68" fill="#333333" fill-opacity="0.75"/>
<ellipse cx="203.03" cy="104.56" rx="0.9" ry="0.68" fill="#333333" fill-opacity="0.75"/>
<ellipse cx="197.05" cy="112.81" rx="0.9" ry="0.68" fill="#333333" fill-opacity="0.75"/>
<ellipse cx="198.49" cy="110.50" rx="0.9" ry="0.68" fill="#333333" fill-opacity="0.75"/>
<ellipse cx="195.46" cy="112.43" rx="0.9" ry="0.68" fill="#333333" fill-opacity="0.75"/>
<ellipse cx="198.00" cy="109.65" rx="0.9" ry="0.68" fill="#333333" fill-opacity="0.75"/>
<ellipse cx="202.16" cy="106.48" rx="0.9" ry="0.68" fill="#333333" fill-opacity="0.75"/>
<ellipse cx="209.55" cy="99.29" rx="0.9" ry="0.68" fill="#333333" fill-opacity="0.75"/>
<ellipse cx="204.54" cy="103.39" rx="0.9" ry="0.68" fill="#333333" fill-opacity="0.75"/>
<ellipse cx="204.60" cy="107.19" rx="0.9" ry="0.68" fill="#333333" fill-opacity="0.75"/>
<ellipse cx="196.94" cy="110.46" rx="0.9" ry="0.68" fill="#333333" fill-opacity="0.75"/>
<ellipse cx="202.49" cy="101.93" rx="0.9" ry="0.68" fill="#333333" fill-opacity="0.75"/>
<ellipse cx="201.34" cy="104.66" rx="0.9" ry="0.68" fill="#333333" fill-opacity="0.75"/>
<ellipse cx="203.16" cy="103.43" rx="0.9" ry="0.68" fill="#333333" fill-opacity="0.75"/>
<ellipse cx="202.11" cy="106.14" rx="0.9" ry="0.68" fill="#333333" fill-opacity="0.75"/>
<ellipse cx="202.11" cy="107.56" rx="0.9" ry="0.68" fill="#333333" fill-opacity="0.75"/>
<ellipse cx="204.86" cy="104.84" rx="0.9" ry="0.68" fill="#333333" fill-opacity="0.75"/>
<ellipse cx="201.04" cy="103.65" rx="0.9" ry="0.68" fill="#333333" fill-opacity="0.75"/>
<ellipse cx="199.10" cy="108.74" rx="0.9" ry="0.68" fill="#333333" fill-opacity="0.75"/>
<ellipse cx="204.79" cy="103.30" rx="0.9" ry="0.68" fill="#333333" fill-opacity="0.75"/>
<ellipse cx="196.71" cy="110.66" rx="0.9" ry="0.68" fill="#333333" fill-opacity="0.75"/>
<ellipse cx="202.41" cy="104.52" rx="0.9" ry="0.68" fill="#333333" fill-opacity="0.75"/>
<ellipse cx="196.85" cy="108.22" rx="0.9" ry="0.68" fill="#333333" fill-opacity="0.75"/>
<ellipse cx="206.85" cy="101.34" rx="0.9" ry="0.68" fill="#333333" fill-opacity="0.75"/>
<ellipse cx="201.12" cy="107.50" rx="0.9" ry="0.68" fill="#333333" fill-opacity="0.75"/>
<ellipse cx="205.82" cy="103.44" rx="0.9" ry="0.68" fill="#333333" fill-opacity="0.75"/>
<ellipse cx="202.78" cy="105.99" rx="0.9" ry="0.68" fill="#333333" fill-opacity="0.75"/>
<ellipse cx="197.17" cy="109.50" rx="0.9" ry="0.68" fill="#333333" fill-opacity="0.75"/>
<ellipse cx="205.49" cy="102.69" rx="0.9" ry="0.68" fill="#333333" fill-opacity="0.75"/>
<ellipse cx="197.24" cy="109.30" rx="0.9" ry="0.68" fill="#333333" fill-opacity="0.75"/>
<ellipse cx="199.81" cy="107.61" rx="0.9" ry="0.68" fill="#333333" fill-opacity="0.75"/>
<ellipse cx="206.26" cy="100.18" rx="0.9" ry="0.68" fill="#333333" fill-opacity="0.75"/>
<ellipse cx="197.89" cy="106.41" rx="0.9" ry="0.68" fill="#333333" fill-opacity="0.75"/>
<ellipse cx="200.03" cy="106.67" rx="0.9" ry="0.68" fill="#333333" fill-opacity="0.75"/>
<ellipse cx="197.36" cy="110.50" rx="0.9" ry="0.68" fill="#333333" fill-opacity="0.75"/>
<ellipse cx="192.84" cy="111.99" rx="0.9" ry="0.68" fill="#333333" fill-opacity="0.75"/>
<ellipse cx="205.62" cy="104.42" rx="0.9" ry="0.68" fill="#333333" fill-opacity="0.75"/>
<ellipse cx="193.84" cy="116.29" rx="0.9" ry="0.68" fill="#333333" fill-opacity="0.75"/>
<ellipse cx="204.84" cy="104.00" rx="0.9" ry="0.68" fill="#333333" fill-opacity="0.75"/>
<ellipse cx="199.77" cy="108.61" rx="0.9" ry="0.68" fill="#333333" fill-opacity="0.75"/>
<ellipse cx="199.52" cy="110.05" rx="0.9" ry="0.68" fill="#333333" fill-opacity="0.75"/>
<ellipse cx="200.12" cy="110.02" rx="0.9" ry="0.68" fill="#333333" fill-opacity="0.75"/>
<ellipse cx="199.72" cy="107.70" rx="0.9" ry="0.68" fill="#333333" fill-opacity="0.75"/>
<ellipse cx="201.94" cy="106.42" rx="0.9" ry="0.68" fill="#333333" fill-opacity="0.75"/>
<ellipse cx="196.31" cy="111.19" rx="0.9" ry="0.68" fill="#333333" fill-opacity="0.75"/>
<ellipse cx="198.03" cy="107.38" rx="0.9" ry="0.68" fill="#333333" fill-opacity="0.75"/>
<ellipse cx="203.17" cy="105.06" rx="0.9" ry="0.68" fill="#333333" fill-opacity="0.75"/>
<ellipse cx="198.09" cy="110.82" rx="0.9" ry="0.68" fill="#333333" fill-opacity="0.75"/>
<ellipse cx="196.17" cy="112.11" rx="0.9" ry="0.68" fill="#333333" fill-opacity="0.75"/>
<ellipse cx="201.23" cy="105.94" rx="0.9" ry="0.68" fill="#333333" fill-opacity="0.75"/>
<ellipse cx="202.35" cy="102.43" rx="0.9" ry="0.68" fill="#333333" fill-opacity="0.75"/>
<ellipse cx="197.13" cy="110.64" rx="0.9" ry="0.68" fill="#333333" fill-opacity="0.75"/>
<ellipse cx="211.48" cy="99.83" rx="0.9" ry="0.68" fill="#333333" fill-opacity="0.75"/>
<ellipse cx="197.88" cy="109.68" rx="0.9" ry="0.68" fill="#333333" fill-opacity="0.75"/>
<ellipse cx="200.65" cy="106.66" rx="0.9" ry="0.68" fill="#333333" fill-opacity="0.75"/>
<ellipse cx="199.04" cy="108.26" rx="0.9" ry="0.68" fill="#333333" fill-opacity="0.75"/>
<ellipse cx="200.23" cy="106.50" rx="0.9" ry="0.68" fill="#333333" fill-opacity="0.75"/>
<ellipse cx="192.25" cy="116.67" rx="0.9" ry="0.68" fill="#333333" fill-opacity="0.75"/>
<ellipse cx="200.01" cy="109.50" rx="0.9" ry="0.68" fill="#333333" fill-opacity="0.75"/>
<ellipse cx="195.73" cy="111.02" rx="0.9" ry="0.68" fill="#333333" fill-opacity="0.75"/>
<ellipse cx="197.35" cy="109.46" rx="0.9" ry="0.68" fill="#333333" fill-opacity="0.75"/>
<ellipse cx="203.08" cy="104.50" rx="0.9" ry="0.68" fill="#333333" fill-opacity="0.75"/>
<ellipse cx="202.10" cy="106.07" rx="0.9" ry="0.68" fill="#333333" fill-opacity="0.75"/>
<ellipse cx="194.24" cy="113.46" rx="0.9" ry="0.68" fill="#333333" fill-opacity="0.75"/>
<ellipse cx="201.88" cy="106.93" rx="0.9" ry="0.68" fill="#333333" fill-opacity="0.75"/>
<ellipse cx="199.61" cy="107.13" rx="0.9" ry="0.68" fill="#333333" fill-opacity="0.75"/>
<ellipse cx="196.42" cy="110.35" rx="0.9" ry="0.68" fill="#333333" fill-opacity="0.75"/>
<ellipse cx="207.66" cy="101.45" rx="0.9" ry="0.68" fill="#333333" fill-opacity="0.75"/>
<ellipse cx="200.62" cy="107.55" rx="0.9" ry="0.68" fill="#333333" fill-opacity="0.75"/>
<ellipse cx="206.34" cy="101.37" rx="0.9" ry="0.68" fill="#333333" fill-opacity="0.75"/>
<ellipse cx="203.70" cy="105.44" rx="0.9" ry="0.68" fill="#333333" fill-opacity="0.75"/>
<ellipse cx="199.95" cy="107.97" rx="0.9" ry="0.68" fill="#333333" fill-opacity="0.75"/>
<ellipse cx="192.73" cy="112.63" rx="0.9" ry="0.68" fill="#333333" fill-opacity="0.75"/>
<ellipse cx="203.71" cy="107.07" rx="0.9" ry="0.68" fill="#333333" fill-opacity="0.75"/>
<ellipse cx="203.07" cy="105.18" rx="0.9" ry="0.68" fill="#333333" fill-opacity="0.75"/>
<ellipse cx="201.86" cy="105.57" rx="0.9" ry="0.68" fill="#333333" fill-opacity="0.75"/>
<ellipse cx="193.87" cy="114.09" rx="0.9" ry="0.68" fill="#333333" fill-opacity="0.75"/>
<ellipse cx="206.14" cy="102.93" rx="0.9" ry="0.68" fill="#333333" fill-opacity="0.75"/>
<ellipse cx="195.82" cy="114.00" rx="0.9" ry="0.68" fill="#333333" fill-opacity="0.75"/>
<ellipse cx="195.01" cy="112.16" rx="0.9" ry="0.68" fill="#333333" fill-opacity="0.75"/>
<ellipse cx="206.96" cy="100.60" rx="0.9" ry="0.68" fill="#333333" fill-opacity="0.75"/>
<ellipse cx="201.03" cy="103.49" rx="0.9" ry="0.68" fill="#333333" fill-opacity="0.75"/>
<ellipse cx="197.89" cy="110.97" rx="0.9" ry="0.68" fill="#333333" fill-opacity="0.75"/>
<ellipse cx="202.19" cy="104.98" rx="0.9" ry="0.68" fill="#333333" fill-opacity="0.75"/>
<ellipse cx="195.86" cy="113.67" rx="0.9" ry="0.68" fill="#333333" fill-opacity="0.75"/>
<ellipse cx="201.21" cy="106.37" rx="0.9" ry="0.68" fill="#333333" fill-opacity="0.75"/>
<ellipse cx="194.66" cy="113.33" rx="0.9" ry="0.68" fill="#333333" fill-opacity="0.75"/>
<ellipse cx="197.79" cy="109.31" rx="0.9" ry="0.68" fill="#333333" fill-opacity="0.75"/>
<ellipse cx="199.54" cy="108.48" rx="0.9" ry="0.68" fill="#333333" fill-opacity="0.75"/>
<ellipse cx="198.57" cy="107.65" rx="0.9" ry="0.68" fill="#333333" fill-opacity="0.75"/>
<ellipse cx="202.37" cy="101.94" rx="0.9" ry="0.68" fill="#c84050" fill-opacity="0.75"/>
<ellipse cx="200.48" cy="104.35" rx="0.9" ry="0.68" fill="#c84050" fill-opacity="0.75"/>
<ellipse cx="197.78" cy="104.60" rx="0.9" ry="0.68" fill="#c84050" fill-opacity="0.75"/>
<ellipse cx="202.80" cy="101.55" rx="0.9" ry="0.68" fill="#c84050" fill-opacity="0.75"/>
<ellipse cx="197.27" cy="105.94" rx="0.9" ry="0.68" fill="#c84050" fill-opacity="0.75"/>
<ellipse cx="192.32" cy="110.95" rx="0.9" ry="0.68" fill="#c84050" fill-opacity="0.75"/>
<ellipse cx="195.18" cy="107.67" rx="0.9" ry="0.68" fill="#c84050" fill-opacity="0.75"/>
<ellipse cx="193.60" cy="112.48" rx="0.9" ry="0.68" fill="#c84050" fill-opacity="0.75"/>
<ellipse cx="197.67" cy="105.47" rx="0.9" ry="0.68" fill="#c84050" fill-opacity="0.75"/>
<ellipse cx="195.62" cy="106.45" rx="0.9" ry="0.68" fill="#c84050" fill-opacity="0.75"/>
<ellipse cx="196.58" cy="107.84" rx="0.9" ry="0.68" fill="#c84050" fill-opacity="0.75"/>
<ellipse cx="199.19" cy="106.83" rx="0.9" ry="0.68" fill="#c84050" fill-opacity="0.75"/>
<ellipse cx="195.17" cy="108.28" rx="0.9" ry="0.68" fill="#c84050" fill-opacity="0.75"/>
<ellipse cx="200.49" cy="103.42" rx="0.9" ry="0.68" fill="#c84050" fill-opacity="0.75"/>
<ellipse cx="198.61" cy="105.98" rx="0.9" ry="0.68" fill="#c84050" fill-opacity="0.75"/>
<ellipse cx="198.58" cy="102.43" rx="0.9" ry="0.68" fill="#c84050" fill-opacity="0.75"/>
<ellipse cx="195.14" cy="104.62" rx="0.9" ry="0.68" fill="#c84050" fill-opacity="0.75"/>
<ellipse cx="195.29" cy="108.11" rx="0.9" ry="0.68" fill="#c84050" fill-opacity="0.75"/>
<ellipse cx="198.14" cy="103.84" rx="0.9" ry="0.68" fill="#c84050" fill-opacity="0.75"/>
<ellipse cx="193.23" cy="112.84" rx="0.9" ry="0.68" fill="#c84050" fill-opacity="0.75"/>
<ellipse cx="199.64" cy="102.75" rx="0.9" ry="0.68" fill="#c84050" fill-opacity="0.75"/>
<ellipse cx="199.70" cy="99.86" rx="0.9" ry="0.68" fill="#c84050" fill-opacity="0.75"/>
<ellipse cx="198.25" cy="104.92" rx="0.9" ry="0.68" fill="#c84050" fill-opacity="0.75"/>
<ellipse cx="200.77" cy="102.34" rx="0.9" ry="0.68" fill="#c84050" fill-opacity="0.75"/>
<ellipse cx="199.59" cy="112.97" rx="0.9" ry="0.68" fill="#30a045" fill-opacity="0.75"/>
<ellipse cx="192.50" cy="122.37" rx="0.9" ry="0.68" fill="#30a045" fill-opacity="0.75"/>
<ellipse cx="196.63" cy="114.78" rx="0.9" ry="0.68" fill="#30a045" fill-opacity="0.75"/>
<ellipse cx="197.02" cy="111.41" rx="0.9" ry="0.68" fill="#30a045" fill-opacity="0.75"/>
<ellipse cx="193.78" cy="117.36" rx="0.9" ry="0.68" fill="#30a045" fill-opacity="0.75"/>
<ellipse cx="192.06" cy="119.69" rx="0.9" ry="0.68" fill="#30a045" fill-opacity="0.75"/>
<ellipse cx="191.61" cy="118.37" rx="0.9" ry="0.68" fill="#30a045" fill-opacity="0.75"/>
<ellipse cx="193.93" cy="116.83" rx="0.9" ry="0.68" fill="#30a045" fill-opacity="0.75"/>
<ellipse cx="193.20" cy="116.52" rx="0.9" ry="0.68" fill="#30a045" fill-opacity="0.75"/>
<ellipse cx="195.52" cy="115.56" rx="0.9" ry="0.68" fill="#30a045" fill-opacity="0.75"/>
<ellipse cx="196.12" cy="115.00" rx="0.9" ry="0.68" fill="#30a045" fill-opacity="0.75"/>
<ellipse cx="189.79" cy="119.14" rx="0.9" ry="0.68" fill="#30a045" fill-opacity="0.75"/>
<ellipse cx="195.42" cy="116.62" rx="0.9" ry="0.68" fill="#30a045" fill-opacity="0.75"/>
<ellipse cx="197.56" cy="113.04" rx="0.9" ry="0.68" fill="#30a045" fill-opacity="0.75"/>
<ellipse cx="188.36" cy="120.32" rx="0.9" ry="0.68" fill="#30a045" fill-opacity="0.75"/>
<ellipse cx="194.96" cy="114.87" rx="0.9" ry="0.68" fill="#30a045" fill-opacity="0.75"/>
<ellipse cx="194.49" cy="116.55" rx="0.9" ry="0.68" fill="#30a045" fill-opacity="0.75"/>
<ellipse cx="188.41" cy="121.03" rx="0.9" ry="0.68" fill="#30a045" fill-opacity="0.75"/>
<ellipse cx="193.91" cy="117.27" rx="0.9" ry="0.68" fill="#30a045" fill-opacity="0.75"/>
<ellipse cx="195.02" cy="115.77" rx="0.9" ry="0.68" fill="#30a045" fill-opacity="0.75"/>
<ellipse cx="196.15" cy="115.23" rx="0.9" ry="0.68" fill="#30a045" fill-opacity="0.75"/>
<ellipse cx="193.68" cy="119.69" rx="0.9" ry="0.68" fill="#30a045" fill-opacity="0.75"/>
<ellipse cx="192.33" cy="117.64" rx="0.9" ry="0.68" fill="#30a045" fill-opacity="0.75"/>
<ellipse cx="198.46" cy="113.02" rx="0.9" ry="0.68" fill="#30a045" fill-opacity="0.75"/>
<ellipse cx="193.38" cy="115.56" rx="0.9" ry="0.68" fill="#30a045" fill-opacity="0.75"/>
<ellipse cx="192.67" cy="117.25" rx="0.9" ry="0.68" fill="#30a045" fill-opacity="0.75"/>
<ellipse cx="199.64" cy="111.41" rx="0.9" ry="0.68" fill="#30a045" fill-opacity="0.75"/>
<ellipse cx="198.07" cy="113.80" rx="0.9" ry="0.68" fill="#30a045" fill-opacity="0.75"/>
<ellipse cx="246.60" cy="63.53" rx="0.9" ry="0.68" fill="#333333" fill-opacity="0.75"/>
<ellipse cx="228.40" cy="81.40" rx="0.9" ry="0.68" fill="#333333" fill-opacity="0.75"/>
<ellipse cx="223.33" cy="85.91" rx="0.9" ry="0.68" fill="#333333" fill-opacity="0.75"/>
<ellipse cx="228.06" cy="80.92" rx="0.9" ry="0.68" fill="#333333" fill-opacity="0.75"/>
<ellipse cx="240.32" cy="67.87" rx="0.9" ry="0.68" fill="#333333" fill-opacity="0.75"/>
<ellipse cx="238.76" cy="69.81" rx="0.9" ry="0.68" fill="#333333" fill-opacity="0.75"/>
<ellipse cx="219.91" cy="88.70" rx="0.9" ry="0.68" fill="#333333" fill-opacity="0.75"/>
<ellipse cx="211.04" cy="98.27" rx="0.9" ry="0.68" fill="#333333" fill-opacity="0.75"/>
<ellipse cx="217.76" cy="90.79" rx="0.9" ry="0.68" fill="#333333" fill-opacity="0.75"/>
<ellipse cx="229.37" cy="80.26" rx="0.9" ry="0.68" fill="#333333" fill-opacity="0.75"/>
<ellipse cx="244.18" cy="65.77" rx="0.9" ry="0.68" fill="#333333" fill-opacity="0.75"/>
<ellipse cx="211.50" cy="97.52" rx="0.9" ry="0.68" fill="#333333" fill-opacity="0.75"/>
<ellipse cx="236.18" cy="72.76" rx="0.9" ry="0.68" fill="#333333" fill-opacity="0.75"/>
<ellipse cx="223.92" cy="83.47" rx="0.9" ry="0.68" fill="#333333" fill-opacity="0.75"/>
<ellipse cx="238.66" cy="70.39" rx="0.9" ry="0.68" fill="#333333" fill-opacity="0.75"/>
<ellipse cx="212.72" cy="95.25" rx="0.9" ry="0.68" fill="#333333" fill-opacity="0.75"/>
<ellipse cx="242.50" cy="62.40" rx="0.9" ry="0.68" fill="#c84050" fill-opacity="0.75"/>
<ellipse cx="245.00" cy="59.80" rx="0.9" ry="0.68" fill="#c84050" fill-opacity="0.75"/>
<ellipse cx="239.80" cy="63.30" rx="0.9" ry="0.68" fill="#c84050" fill-opacity="0.75"/>
<ellipse cx="236.30" cy="66.00" rx="0.9" ry="0.68" fill="#c84050" fill-opacity="0.75"/>
<ellipse cx="231.00" cy="72.20" rx="0.9" ry="0.68" fill="#c84050" fill-opacity="0.75"/>
<ellipse cx="224.80" cy="78.40" rx="0.9" ry="0.68" fill="#c84050" fill-opacity="0.75"/>
<ellipse cx="220.40" cy="79.20" rx="0.9" ry="0.68" fill="#c84050" fill-opacity="0.75"/>
<ellipse cx="216.80" cy="81.90" rx="0.9" ry="0.68" fill="#c84050" fill-opacity="0.75"/>
<ellipse cx="213.30" cy="82.80" rx="0.9" ry="0.68" fill="#c84050" fill-opacity="0.75"/>
<ellipse cx="210.60" cy="86.30" rx="0.9" ry="0.68" fill="#c84050" fill-opacity="0.75"/>
<ellipse cx="201.80" cy="97.00" rx="0.9" ry="0.68" fill="#c84050" fill-opacity="0.75"/>
<ellipse cx="199.90" cy="96.60" rx="0.9" ry="0.68" fill="#c84050" fill-opacity="0.75"/>
<ellipse cx="196.00" cy="104.60" rx="0.9" ry="0.68" fill="#c84050" fill-opacity="0.75"/>
<ellipse cx="215.90" cy="82.00" rx="0.9" ry="0.68" fill="#c84050" fill-opacity="0.75"/>
<ellipse cx="241.00" cy="60.50" rx="0.9" ry="0.68" fill="#c84050" fill-opacity="0.75"/>
<ellipse cx="243.50" cy="64.50" rx="0.9" ry="0.68" fill="#c84050" fill-opacity="0.75"/>
<ellipse cx="238.00" cy="65.00" rx="0.9" ry="0.68" fill="#c84050" fill-opacity="0.75"/>
<ellipse cx="268.10" cy="42.40" rx="0.9" ry="0.68" fill="#333333" fill-opacity="0.75"/>
<ellipse cx="249.60" cy="63.30" rx="0.9" ry="0.68" fill="#333333" fill-opacity="0.75"/>
<ellipse cx="228.30" cy="79.20" rx="0.9" ry="0.68" fill="#333333" fill-opacity="0.75"/>
<ellipse cx="237.20" cy="70.40" rx="0.9" ry="0.68" fill="#333333" fill-opacity="0.75"/>
<ellipse cx="247.40" cy="71.30" rx="0.9" ry="0.68" fill="#30a045" fill-opacity="0.75"/>
<ellipse cx="238.00" cy="77.10" rx="0.9" ry="0.68" fill="#30a045" fill-opacity="0.75"/>
<ellipse cx="226.50" cy="92.50" rx="0.9" ry="0.68" fill="#30a045" fill-opacity="0.75"/>
<text x="167.70" y="141.80" font-family="'Liberation Sans', sans-serif" font-size="2.4" font-weight="normal" text-anchor="middle" fill="#555" stroke="#555" stroke-width="0.05">4</text>
<text x="180.13" y="141.80" font-family="'Liberation Sans', sans-serif" font-size="2.4" font-weight="normal" text-anchor="middle" fill="#555" stroke="#555" stroke-width="0.05">5</text>
<text x="192.56" y="141.80" font-family="'Liberation Sans', sans-serif" font-size="2.4" font-weight="normal" text-anchor="middle" fill="#555" stroke="#555" stroke-width="0.05">6</text>
<text x="204.99" y="141.80" font-family="'Liberation Sans', sans-serif" font-size="2.4" font-weight="normal" text-anchor="middle" fill="#555" stroke="#555" stroke-width="0.05">7</text>
<text x="217.42" y="141.80" font-family="'Liberation Sans', sans-serif" font-size="2.4" font-weight="normal" text-anchor="middle" fill="#555" stroke="#555" stroke-width="0.05">8</text>
<text x="229.85" y="141.80" font-family="'Liberation Sans', sans-serif" font-size="2.4" font-weight="normal" text-anchor="middle" fill="#555" stroke="#555" stroke-width="0.05">9</text>
<text x="242.28" y="141.80" font-family="'Liberation Sans', sans-serif" font-size="2.4" font-weight="normal" text-anchor="middle" fill="#555" stroke="#555" stroke-width="0.05">10</text>
<text x="254.71" y="141.80" font-family="'Liberation Sans', sans-serif" font-size="2.4" font-weight="normal" text-anchor="middle" fill="#555" stroke="#555" stroke-width="0.05">11</text>
<text x="267.14" y="141.80" font-family="'Liberation Sans', sans-serif" font-size="2.4" font-weight="normal" text-anchor="middle" fill="#555" stroke="#555" stroke-width="0.05">12</text>
<text x="279.57" y="141.80" font-family="'Liberation Sans', sans-serif" font-size="2.4" font-weight="normal" text-anchor="middle" fill="#555" stroke="#555" stroke-width="0.05">13</text>
<text x="292.00" y="141.80" font-family="'Liberation Sans', sans-serif" font-size="2.4" font-weight="normal" text-anchor="middle" fill="#555" stroke="#555" stroke-width="0.05">14</text>
<text x="166.50" y="139.25" font-family="'Liberation Sans', sans-serif" font-size="2.4" font-weight="normal" text-anchor="end" fill="#555" stroke="#555" stroke-width="0.05" transform="translate(166.50,0) scale(0.8,1) translate(-166.50,0)">4</text>
<text x="166.50" y="133.31" font-family="'Liberation Sans', sans-serif" font-size="2.4" font-weight="normal" text-anchor="end" fill="#555" stroke="#555" stroke-width="0.05" transform="translate(166.50,0) scale(0.8,1) translate(-166.50,0)">4.5</text>
<text x="166.50" y="127.38" font-family="'Liberation Sans', sans-serif" font-size="2.4" font-weight="normal" text-anchor="end" fill="#555" stroke="#555" stroke-width="0.05" transform="translate(166.50,0) scale(0.8,1) translate(-166.50,0)">5</text>
<text x="166.50" y="121.44" font-family="'Liberation Sans', sans-serif" font-size="2.4" font-weight="normal" text-anchor="end" fill="#555" stroke="#555" stroke-width="0.05" transform="translate(166.50,0) scale(0.8,1) translate(-166.50,0)">5.5</text>
<text x="166.50" y="115.51" font-family="'Liberation Sans', sans-serif" font-size="2.4" font-weight="normal" text-anchor="end" fill="#555" stroke="#555" stroke-width="0.05" transform="translate(166.50,0) scale(0.8,1) translate(-166.50,0)">6</text>
<text x="166.50" y="109.58" font-family="'Liberation Sans', sans-serif" font-size="2.4" font-weight="normal" text-anchor="end" fill="#555" stroke="#555" stroke-width="0.05" transform="translate(166.50,0) scale(0.8,1) translate(-166.50,0)">6.5</text>
<text x="166.50" y="103.64" font-family="'Liberation Sans', sans-serif" font-size="2.4" font-weight="normal" text-anchor="end" fill="#555" stroke="#555" stroke-width="0.05" transform="translate(166.50,0) scale(0.8,1) translate(-166.50,0)">7</text>
<text x="166.50" y="97.70" font-family="'Liberation Sans', sans-serif" font-size="2.4" font-weight="normal" text-anchor="end" fill="#555" stroke="#555" stroke-width="0.05" transform="translate(166.50,0) scale(0.8,1) translate(-166.50,0)">7.5</text>
<text x="166.50" y="91.77" font-family="'Liberation Sans', sans-serif" font-size="2.4" font-weight="normal" text-anchor="end" fill="#555" stroke="#555" stroke-width="0.05" transform="translate(166.50,0) scale(0.8,1) translate(-166.50,0)">8</text>
<text x="166.50" y="85.84" font-family="'Liberation Sans', sans-serif" font-size="2.4" font-weight="normal" text-anchor="end" fill="#555" stroke="#555" stroke-width="0.05" transform="translate(166.50,0) scale(0.8,1) translate(-166.50,0)">8.5</text>
<text x="166.50" y="79.90" font-family="'Liberation Sans', sans-serif" font-size="2.4" font-weight="normal" text-anchor="end" fill="#555" stroke="#555" stroke-width="0.05" transform="translate(166.50,0) scale(0.8,1) translate(-166.50,0)">9</text>
<text x="166.50" y="73.97" font-family="'Liberation Sans', sans-serif" font-size="2.4" font-weight="normal" text-anchor="end" fill="#555" stroke="#555" stroke-width="0.05" transform="translate(166.50,0) scale(0.8,1) translate(-166.50,0)">9.5</text>
<text x="166.50" y="68.03" font-family="'Liberation Sans', sans-serif" font-size="2.4" font-weight="normal" text-anchor="end" fill="#555" stroke="#555" stroke-width="0.05" transform="translate(166.50,0) scale(0.8,1) translate(-166.50,0)">10</text>
<text x="166.50" y="62.10" font-family="'Liberation Sans', sans-serif" font-size="2.4" font-weight="normal" text-anchor="end" fill="#555" stroke="#555" stroke-width="0.05" transform="translate(166.50,0) scale(0.8,1) translate(-166.50,0)">10.5</text>
<text x="166.50" y="56.16" font-family="'Liberation Sans', sans-serif" font-size="2.4" font-weight="normal" text-anchor="end" fill="#555" stroke="#555" stroke-width="0.05" transform="translate(166.50,0) scale(0.8,1) translate(-166.50,0)">11</text>
<text x="166.50" y="50.23" font-family="'Liberation Sans', sans-serif" font-size="2.4" font-weight="normal" text-anchor="end" fill="#555" stroke="#555" stroke-width="0.05" transform="translate(166.50,0) scale(0.8,1) translate(-166.50,0)">11.5</text>
<text x="166.50" y="44.29" font-family="'Liberation Sans', sans-serif" font-size="2.4" font-weight="normal" text-anchor="end" fill="#555" stroke="#555" stroke-width="0.05" transform="translate(166.50,0) scale(0.8,1) translate(-166.50,0)">12</text>
<text x="166.50" y="38.35" font-family="'Liberation Sans', sans-serif" font-size="2.4" font-weight="normal" text-anchor="end" fill="#555" stroke="#555" stroke-width="0.05" transform="translate(166.50,0) scale(0.8,1) translate(-166.50,0)">12.5</text>
<text x="166.50" y="32.42" font-family="'Liberation Sans', sans-serif" font-size="2.4" font-weight="normal" text-anchor="end" fill="#555" stroke="#555" stroke-width="0.05" transform="translate(166.50,0) scale(0.8,1) translate(-166.50,0)">13</text>
<text x="166.50" y="26.48" font-family="'Liberation Sans', sans-serif" font-size="2.4" font-weight="normal" text-anchor="end" fill="#555" stroke="#555" stroke-width="0.05" transform="translate(166.50,0) scale(0.8,1) translate(-166.50,0)">13.5</text>
<text x="166.50" y="20.55" font-family="'Liberation Sans', sans-serif" font-size="2.4" font-weight="normal" text-anchor="end" fill="#555" stroke="#555" stroke-width="0.05" transform="translate(166.50,0) scale(0.8,1) translate(-166.50,0)">14</text>
<text x="228.90" y="15.70" font-family="'Liberation Serif', serif" font-size="4.15" font-weight="bold" text-anchor="middle" fill="#000" textLength="36.5" lengthAdjust="spacingAndGlyphs" stroke="#000" stroke-width="0.1">SG-dietary / Control</text>
<text x="228.20" y="147.00" font-family="'Liberation Serif', serif" font-size="4.15" font-weight="bold" text-anchor="middle" fill="#000" textLength="24.6" lengthAdjust="spacingAndGlyphs" stroke="#000" stroke-width="0.1">Control group</text>
<g stroke="#eeeeee" stroke-width="0.6">
<line x1="329.14" y1="20" x2="329.14" y2="138.2"/>
<line x1="341.48" y1="20" x2="341.48" y2="138.2"/>
<line x1="353.82" y1="20" x2="353.82" y2="138.2"/>
<line x1="366.16" y1="20" x2="366.16" y2="138.2"/>
<line x1="378.50" y1="20" x2="378.50" y2="138.2"/>
<line x1="390.84" y1="20" x2="390.84" y2="138.2"/>
<line x1="403.18" y1="20" x2="403.18" y2="138.2"/>
<line x1="415.52" y1="20" x2="415.52" y2="138.2"/>
<line x1="427.86" y1="20" x2="427.86" y2="138.2"/>
<line x1="316.8" y1="25.91" x2="440.2" y2="25.91"/>
<line x1="316.8" y1="31.82" x2="440.2" y2="31.82"/>
<line x1="316.8" y1="37.73" x2="440.2" y2="37.73"/>
<line x1="316.8" y1="43.64" x2="440.2" y2="43.64"/>
<line x1="316.8" y1="49.55" x2="440.2" y2="49.55"/>
<line x1="316.8" y1="55.46" x2="440.2" y2="55.46"/>
<line x1="316.8" y1="61.37" x2="440.2" y2="61.37"/>
<line x1="316.8" y1="67.28" x2="440.2" y2="67.28"/>
<line x1="316.8" y1="73.19" x2="440.2" y2="73.19"/>
<line x1="316.8" y1="79.10" x2="440.2" y2="79.10"/>
<line x1="316.8" y1="85.01" x2="440.2" y2="85.01"/>
<line x1="316.8" y1="90.92" x2="440.2" y2="90.92"/>
<line x1="316.8" y1="96.83" x2="440.2" y2="96.83"/>
<line x1="316.8" y1="102.74" x2="440.2" y2="102.74"/>
<line x1="316.8" y1="108.65" x2="440.2" y2="108.65"/>
<line x1="316.8" y1="114.56" x2="440.2" y2="114.56"/>
<line x1="316.8" y1="120.47" x2="440.2" y2="120.47"/>
<line x1="316.8" y1="126.38" x2="440.2" y2="126.38"/>
<line x1="316.8" y1="132.29" x2="440.2" y2="132.29"/>
</g>
<rect x="316.8" y="20" width="123.39999999999998" height="118.19999999999999" fill="none" stroke="#d8d8d8" stroke-width="0.7"/>
<line x1="316.8" y1="138.2" x2="440.2" y2="20" stroke="#8a8a8a" stroke-width="0.8"/>
<line x1="316.8" y1="126.38" x2="427.86" y2="20" stroke="#ffb8c0" stroke-width="0.8"/>
<line x1="329.14" y1="138.2" x2="440.2" y2="31.82" stroke="#a8dcc0" stroke-width="0.8"/>
<ellipse cx="346.78" cy="110.42" rx="0.9" ry="0.68" fill="#333333" fill-opacity="0.75"/>
<ellipse cx="349.35" cy="108.44" rx="0.9" ry="0.68" fill="#333333" fill-opacity="0.75"/>
<ellipse cx="349.54" cy="105.75" rx="0.9" ry="0.68" fill="#333333" fill-opacity="0.75"/>
<ellipse cx="353.16" cy="100.59" rx="0.9" ry="0.68" fill="#333333" fill-opacity="0.75"/>
<ellipse cx="347.08" cy="110.17" rx="0.9" ry="0.68" fill="#333333" fill-opacity="0.75"/>
<ellipse cx="341.84" cy="111.08" rx="0.9" ry="0.68" fill="#333333" fill-opacity="0.75"/>
<ellipse cx="347.27" cy="109.31" rx="0.9" ry="0.68" fill="#333333" fill-opacity="0.75"/>
<ellipse cx="351.11" cy="107.98" rx="0.9" ry="0.68" fill="#333333" fill-opacity="0.75"/>
<ellipse cx="350.93" cy="105.79" rx="0.9" ry="0.68" fill="#333333" fill-opacity="0.75"/>
<ellipse cx="343.87" cy="111.99" rx="0.9" ry="0.68" fill="#333333" fill-opacity="0.75"/>
<ellipse cx="353.19" cy="106.90" rx="0.9" ry="0.68" fill="#333333" fill-opacity="0.75"/>
<ellipse cx="351.99" cy="104.36" rx="0.9" ry="0.68" fill="#333333" fill-opacity="0.75"/>
<ellipse cx="350.97" cy="104.93" rx="0.9" ry="0.68" fill="#333333" fill-opacity="0.75"/>
<ellipse cx="353.52" cy="103.66" rx="0.9" ry="0.68" fill="#333333" fill-opacity="0.75"/>
<ellipse cx="352.20" cy="105.26" rx="0.9" ry="0.68" fill="#333333" fill-opacity="0.75"/>
<ellipse cx="351.75" cy="106.41" rx="0.9" ry="0.68" fill="#333333" fill-opacity="0.75"/>
<ellipse cx="349.17" cy="104.36" rx="0.9" ry="0.68" fill="#333333" fill-opacity="0.75"/>
<ellipse cx="350.88" cy="106.08" rx="0.9" ry="0.68" fill="#333333" fill-opacity="0.75"/>
<ellipse cx="345.97" cy="111.90" rx="0.9" ry="0.68" fill="#333333" fill-opacity="0.75"/>
<ellipse cx="350.10" cy="104.88" rx="0.9" ry="0.68" fill="#333333" fill-opacity="0.75"/>
<ellipse cx="350.82" cy="104.93" rx="0.9" ry="0.68" fill="#333333" fill-opacity="0.75"/>
<ellipse cx="349.37" cy="104.84" rx="0.9" ry="0.68" fill="#333333" fill-opacity="0.75"/>
<ellipse cx="348.30" cy="109.24" rx="0.9" ry="0.68" fill="#333333" fill-opacity="0.75"/>
<ellipse cx="352.24" cy="104.38" rx="0.9" ry="0.68" fill="#333333" fill-opacity="0.75"/>
<ellipse cx="348.64" cy="108.96" rx="0.9" ry="0.68" fill="#333333" fill-opacity="0.75"/>
<ellipse cx="348.71" cy="106.77" rx="0.9" ry="0.68" fill="#333333" fill-opacity="0.75"/>
<ellipse cx="350.59" cy="108.21" rx="0.9" ry="0.68" fill="#333333" fill-opacity="0.75"/>
<ellipse cx="350.82" cy="105.54" rx="0.9" ry="0.68" fill="#333333" fill-opacity="0.75"/>
<ellipse cx="346.42" cy="108.70" rx="0.9" ry="0.68" fill="#333333" fill-opacity="0.75"/>
<ellipse cx="348.64" cy="108.54" rx="0.9" ry="0.68" fill="#333333" fill-opacity="0.75"/>
<ellipse cx="351.96" cy="102.42" rx="0.9" ry="0.68" fill="#333333" fill-opacity="0.75"/>
<ellipse cx="347.38" cy="108.37" rx="0.9" ry="0.68" fill="#333333" fill-opacity="0.75"/>
<ellipse cx="346.80" cy="105.60" rx="0.9" ry="0.68" fill="#333333" fill-opacity="0.75"/>
<ellipse cx="347.98" cy="106.45" rx="0.9" ry="0.68" fill="#333333" fill-opacity="0.75"/>
<ellipse cx="347.50" cy="107.59" rx="0.9" ry="0.68" fill="#333333" fill-opacity="0.75"/>
<ellipse cx="356.35" cy="105.06" rx="0.9" ry="0.68" fill="#333333" fill-opacity="0.75"/>
<ellipse cx="348.16" cy="107.51" rx="0.9" ry="0.68" fill="#333333" fill-opacity="0.75"/>
<ellipse cx="349.21" cy="108.57" rx="0.9" ry="0.68" fill="#333333" fill-opacity="0.75"/>
<ellipse cx="356.14" cy="100.61" rx="0.9" ry="0.68" fill="#333333" fill-opacity="0.75"/>
<ellipse cx="344.43" cy="110.46" rx="0.9" ry="0.68" fill="#333333" fill-opacity="0.75"/>
<ellipse cx="344.19" cy="110.16" rx="0.9" ry="0.68" fill="#333333" fill-opacity="0.75"/>
<ellipse cx="347.72" cy="108.56" rx="0.9" ry="0.68" fill="#333333" fill-opacity="0.75"/>
<ellipse cx="353.39" cy="103.18" rx="0.9" ry="0.68" fill="#333333" fill-opacity="0.75"/>
<ellipse cx="345.21" cy="114.23" rx="0.9" ry="0.68" fill="#333333" fill-opacity="0.75"/>
<ellipse cx="353.15" cy="102.31" rx="0.9" ry="0.68" fill="#333333" fill-opacity="0.75"/>
<ellipse cx="346.98" cy="108.00" rx="0.9" ry="0.68" fill="#333333" fill-opacity="0.75"/>
<ellipse cx="351.03" cy="104.50" rx="0.9" ry="0.68" fill="#333333" fill-opacity="0.75"/>
<ellipse cx="342.53" cy="114.32" rx="0.9" ry="0.68" fill="#333333" fill-opacity="0.75"/>
<ellipse cx="352.28" cy="103.15" rx="0.9" ry="0.68" fill="#333333" fill-opacity="0.75"/>
<ellipse cx="352.22" cy="108.87" rx="0.9" ry="0.68" fill="#333333" fill-opacity="0.75"/>
<ellipse cx="350.02" cy="105.74" rx="0.9" ry="0.68" fill="#333333" fill-opacity="0.75"/>
<ellipse cx="357.37" cy="101.26" rx="0.9" ry="0.68" fill="#333333" fill-opacity="0.75"/>
<ellipse cx="348.49" cy="108.02" rx="0.9" ry="0.68" fill="#333333" fill-opacity="0.75"/>
<ellipse cx="352.23" cy="105.28" rx="0.9" ry="0.68" fill="#333333" fill-opacity="0.75"/>
<ellipse cx="353.04" cy="105.12" rx="0.9" ry="0.68" fill="#333333" fill-opacity="0.75"/>
<ellipse cx="350.32" cy="107.26" rx="0.9" ry="0.68" fill="#333333" fill-opacity="0.75"/>
<ellipse cx="349.99" cy="107.87" rx="0.9" ry="0.68" fill="#333333" fill-opacity="0.75"/>
<ellipse cx="344.57" cy="109.90" rx="0.9" ry="0.68" fill="#333333" fill-opacity="0.75"/>
<ellipse cx="350.44" cy="107.21" rx="0.9" ry="0.68" fill="#333333" fill-opacity="0.75"/>
<ellipse cx="350.12" cy="104.76" rx="0.9" ry="0.68" fill="#333333" fill-opacity="0.75"/>
<ellipse cx="346.49" cy="110.20" rx="0.9" ry="0.68" fill="#333333" fill-opacity="0.75"/>
<ellipse cx="351.16" cy="104.59" rx="0.9" ry="0.68" fill="#333333" fill-opacity="0.75"/>
<ellipse cx="348.47" cy="111.84" rx="0.9" ry="0.68" fill="#333333" fill-opacity="0.75"/>
<ellipse cx="353.34" cy="102.86" rx="0.9" ry="0.68" fill="#333333" fill-opacity="0.75"/>
<ellipse cx="349.54" cy="107.57" rx="0.9" ry="0.68" fill="#333333" fill-opacity="0.75"/>
<ellipse cx="350.31" cy="107.09" rx="0.9" ry="0.68" fill="#333333" fill-opacity="0.75"/>
<ellipse cx="346.34" cy="111.45" rx="0.9" ry="0.68" fill="#333333" fill-opacity="0.75"/>
<ellipse cx="347.66" cy="109.96" rx="0.9" ry="0.68" fill="#333333" fill-opacity="0.75"/>
<ellipse cx="345.93" cy="109.41" rx="0.9" ry="0.68" fill="#333333" fill-opacity="0.75"/>
<ellipse cx="345.46" cy="109.81" rx="0.9" ry="0.68" fill="#333333" fill-opacity="0.75"/>
<ellipse cx="342.67" cy="106.68" rx="0.9" ry="0.68" fill="#e84555" fill-opacity="0.75"/>
<ellipse cx="350.04" cy="99.97" rx="0.9" ry="0.68" fill="#e84555" fill-opacity="0.75"/>
<ellipse cx="343.54" cy="106.56" rx="0.9" ry="0.68" fill="#e84555" fill-opacity="0.75"/>
<ellipse cx="346.26" cy="108.17" rx="0.9" ry="0.68" fill="#e84555" fill-opacity="0.75"/>
<ellipse cx="343.92" cy="105.92" rx="0.9" ry="0.68" fill="#e84555" fill-opacity="0.75"/>
<ellipse cx="344.35" cy="105.71" rx="0.9" ry="0.68" fill="#e84555" fill-opacity="0.75"/>
<ellipse cx="348.06" cy="100.53" rx="0.9" ry="0.68" fill="#e84555" fill-opacity="0.75"/>
<ellipse cx="348.59" cy="100.45" rx="0.9" ry="0.68" fill="#e84555" fill-opacity="0.75"/>
<ellipse cx="344.91" cy="105.41" rx="0.9" ry="0.68" fill="#e84555" fill-opacity="0.75"/>
<ellipse cx="344.96" cy="106.05" rx="0.9" ry="0.68" fill="#e84555" fill-opacity="0.75"/>
<ellipse cx="345.24" cy="109.12" rx="0.9" ry="0.68" fill="#e84555" fill-opacity="0.75"/>
<ellipse cx="344.77" cy="105.55" rx="0.9" ry="0.68" fill="#e84555" fill-opacity="0.75"/>
<ellipse cx="342.79" cy="107.45" rx="0.9" ry="0.68" fill="#e84555" fill-opacity="0.75"/>
<ellipse cx="347.39" cy="103.38" rx="0.9" ry="0.68" fill="#e84555" fill-opacity="0.75"/>
<ellipse cx="352.21" cy="102.87" rx="0.9" ry="0.68" fill="#e84555" fill-opacity="0.75"/>
<ellipse cx="345.16" cy="109.44" rx="0.9" ry="0.68" fill="#e84555" fill-opacity="0.75"/>
<ellipse cx="348.82" cy="95.71" rx="0.9" ry="0.68" fill="#e84555" fill-opacity="0.75"/>
<ellipse cx="338.08" cy="111.60" rx="0.9" ry="0.68" fill="#e84555" fill-opacity="0.75"/>
<ellipse cx="347.40" cy="103.69" rx="0.9" ry="0.68" fill="#e84555" fill-opacity="0.75"/>
<ellipse cx="347.50" cy="107.37" rx="0.9" ry="0.68" fill="#e84555" fill-opacity="0.75"/>
<ellipse cx="348.43" cy="101.12" rx="0.9" ry="0.68" fill="#e84555" fill-opacity="0.75"/>
<ellipse cx="345.87" cy="105.83" rx="0.9" ry="0.68" fill="#e84555" fill-opacity="0.75"/>
<ellipse cx="347.77" cy="103.77" rx="0.9" ry="0.68" fill="#e84555" fill-opacity="0.75"/>
<ellipse cx="346.49" cy="105.06" rx="0.9" ry="0.68" fill="#e84555" fill-opacity="0.75"/>
<ellipse cx="338.87" cy="111.23" rx="0.9" ry="0.68" fill="#e84555" fill-opacity="0.75"/>
<ellipse cx="346.42" cy="102.13" rx="0.9" ry="0.68" fill="#e84555" fill-opacity="0.75"/>
<ellipse cx="343.10" cy="107.18" rx="0.9" ry="0.68" fill="#e84555" fill-opacity="0.75"/>
<ellipse cx="347.70" cy="102.35" rx="0.9" ry="0.68" fill="#e84555" fill-opacity="0.75"/>
<ellipse cx="349.63" cy="96.13" rx="0.9" ry="0.68" fill="#e84555" fill-opacity="0.75"/>
<ellipse cx="343.00" cy="111.69" rx="0.9" ry="0.68" fill="#e84555" fill-opacity="0.75"/>
<ellipse cx="348.44" cy="98.37" rx="0.9" ry="0.68" fill="#e84555" fill-opacity="0.75"/>
<ellipse cx="348.64" cy="99.86" rx="0.9" ry="0.68" fill="#e84555" fill-opacity="0.75"/>
<ellipse cx="343.89" cy="108.03" rx="0.9" ry="0.68" fill="#e84555" fill-opacity="0.75"/>
<ellipse cx="348.54" cy="104.04" rx="0.9" ry="0.68" fill="#e84555" fill-opacity="0.75"/>
<ellipse cx="340.20" cy="112.23" rx="0.9" ry="0.68" fill="#e84555" fill-opacity="0.75"/>
<ellipse cx="353.49" cy="92.60" rx="0.9" ry="0.68" fill="#e84555" fill-opacity="0.75"/>
<ellipse cx="343.68" cy="108.26" rx="0.9" ry="0.68" fill="#e84555" fill-opacity="0.75"/>
<ellipse cx="346.51" cy="105.60" rx="0.9" ry="0.68" fill="#e84555" fill-opacity="0.75"/>
<ellipse cx="349.84" cy="100.83" rx="0.9" ry="0.68" fill="#e84555" fill-opacity="0.75"/>
<ellipse cx="342.45" cy="104.63" rx="0.9" ry="0.68" fill="#e84555" fill-opacity="0.75"/>
<ellipse cx="344.00" cy="105.71" rx="0.9" ry="0.68" fill="#e84555" fill-opacity="0.75"/>
<ellipse cx="345.76" cy="105.29" rx="0.9" ry="0.68" fill="#e84555" fill-opacity="0.75"/>
<ellipse cx="346.80" cy="105.19" rx="0.9" ry="0.68" fill="#e84555" fill-opacity="0.75"/>
<ellipse cx="340.11" cy="114.46" rx="0.9" ry="0.68" fill="#e84555" fill-opacity="0.75"/>
<ellipse cx="341.89" cy="110.05" rx="0.9" ry="0.68" fill="#e84555" fill-opacity="0.75"/>
<ellipse cx="345.10" cy="116.89" rx="0.9" ry="0.68" fill="#30a045" fill-opacity="0.75"/>
<ellipse cx="347.24" cy="114.71" rx="0.9" ry="0.68" fill="#30a045" fill-opacity="0.75"/>
<ellipse cx="342.24" cy="121.16" rx="0.9" ry="0.68" fill="#30a045" fill-opacity="0.75"/>
<ellipse cx="337.34" cy="124.78" rx="0.9" ry="0.68" fill="#30a045" fill-opacity="0.75"/>
<ellipse cx="346.98" cy="114.14" rx="0.9" ry="0.68" fill="#30a045" fill-opacity="0.75"/>
<ellipse cx="344.73" cy="117.70" rx="0.9" ry="0.68" fill="#30a045" fill-opacity="0.75"/>
<ellipse cx="348.65" cy="113.57" rx="0.9" ry="0.68" fill="#30a045" fill-opacity="0.75"/>
<ellipse cx="347.91" cy="113.14" rx="0.9" ry="0.68" fill="#30a045" fill-opacity="0.75"/>
<ellipse cx="345.97" cy="113.54" rx="0.9" ry="0.68" fill="#30a045" fill-opacity="0.75"/>
<ellipse cx="343.06" cy="119.68" rx="0.9" ry="0.68" fill="#30a045" fill-opacity="0.75"/>
<ellipse cx="342.19" cy="121.39" rx="0.9" ry="0.68" fill="#30a045" fill-opacity="0.75"/>
<ellipse cx="350.94" cy="107.87" rx="0.9" ry="0.68" fill="#30a045" fill-opacity="0.75"/>
<ellipse cx="345.27" cy="115.70" rx="0.9" ry="0.68" fill="#30a045" fill-opacity="0.75"/>
<ellipse cx="349.53" cy="111.13" rx="0.9" ry="0.68" fill="#30a045" fill-opacity="0.75"/>
<ellipse cx="349.64" cy="115.19" rx="0.9" ry="0.68" fill="#30a045" fill-opacity="0.75"/>
<ellipse cx="342.82" cy="118.28" rx="0.9" ry="0.68" fill="#30a045" fill-opacity="0.75"/>
<ellipse cx="350.50" cy="111.63" rx="0.9" ry="0.68" fill="#30a045" fill-opacity="0.75"/>
<ellipse cx="342.00" cy="120.68" rx="0.9" ry="0.68" fill="#30a045" fill-opacity="0.75"/>
<ellipse cx="342.74" cy="120.99" rx="0.9" ry="0.68" fill="#30a045" fill-opacity="0.75"/>
<ellipse cx="350.74" cy="112.86" rx="0.9" ry="0.68" fill="#30a045" fill-opacity="0.75"/>
<ellipse cx="345.26" cy="112.51" rx="0.9" ry="0.68" fill="#30a045" fill-opacity="0.75"/>
<ellipse cx="349.57" cy="112.05" rx="0.9" ry="0.68" fill="#30a045" fill-opacity="0.75"/>
<ellipse cx="342.92" cy="118.27" rx="0.9" ry="0.68" fill="#30a045" fill-opacity="0.75"/>
<ellipse cx="351.19" cy="109.92" rx="0.9" ry="0.68" fill="#30a045" fill-opacity="0.75"/>
<ellipse cx="349.85" cy="112.25" rx="0.9" ry="0.68" fill="#30a045" fill-opacity="0.75"/>
<ellipse cx="347.09" cy="115.50" rx="0.9" ry="0.68" fill="#30a045" fill-opacity="0.75"/>
<ellipse cx="346.76" cy="112.80" rx="0.9" ry="0.68" fill="#30a045" fill-opacity="0.75"/>
<ellipse cx="339.88" cy="122.12" rx="0.9" ry="0.68" fill="#30a045" fill-opacity="0.75"/>
<ellipse cx="346.07" cy="117.22" rx="0.9" ry="0.68" fill="#30a045" fill-opacity="0.75"/>
<ellipse cx="344.04" cy="116.44" rx="0.9" ry="0.68" fill="#30a045" fill-opacity="0.75"/>
<ellipse cx="352.59" cy="108.56" rx="0.9" ry="0.68" fill="#30a045" fill-opacity="0.75"/>
<ellipse cx="346.39" cy="118.89" rx="0.9" ry="0.68" fill="#30a045" fill-opacity="0.75"/>
<ellipse cx="352.32" cy="109.93" rx="0.9" ry="0.68" fill="#30a045" fill-opacity="0.75"/>
<ellipse cx="345.06" cy="119.29" rx="0.9" ry="0.68" fill="#30a045" fill-opacity="0.75"/>
<ellipse cx="344.97" cy="119.33" rx="0.9" ry="0.68" fill="#30a045" fill-opacity="0.75"/>
<ellipse cx="345.44" cy="115.74" rx="0.9" ry="0.68" fill="#30a045" fill-opacity="0.75"/>
<ellipse cx="345.30" cy="116.25" rx="0.9" ry="0.68" fill="#30a045" fill-opacity="0.75"/>
<ellipse cx="342.03" cy="117.07" rx="0.9" ry="0.68" fill="#30a045" fill-opacity="0.75"/>
<ellipse cx="342.76" cy="122.89" rx="0.9" ry="0.68" fill="#30a045" fill-opacity="0.75"/>
<ellipse cx="344.49" cy="119.12" rx="0.9" ry="0.68" fill="#30a045" fill-opacity="0.75"/>
<ellipse cx="341.44" cy="121.22" rx="0.9" ry="0.68" fill="#30a045" fill-opacity="0.75"/>
<ellipse cx="346.26" cy="118.27" rx="0.9" ry="0.68" fill="#30a045" fill-opacity="0.75"/>
<ellipse cx="344.67" cy="114.54" rx="0.9" ry="0.68" fill="#30a045" fill-opacity="0.75"/>
<ellipse cx="347.71" cy="114.81" rx="0.9" ry="0.68" fill="#30a045" fill-opacity="0.75"/>
<ellipse cx="345.65" cy="116.71" rx="0.9" ry="0.68" fill="#30a045" fill-opacity="0.75"/>
<ellipse cx="345.01" cy="115.62" rx="0.9" ry="0.68" fill="#30a045" fill-opacity="0.75"/>
<ellipse cx="344.84" cy="122.08" rx="0.9" ry="0.68" fill="#30a045" fill-opacity="0.75"/>
<ellipse cx="345.10" cy="118.79" rx="0.9" ry="0.68" fill="#30a045" fill-opacity="0.75"/>
<ellipse cx="347.59" cy="115.84" rx="0.9" ry="0.68" fill="#30a045" fill-opacity="0.75"/>
<ellipse cx="345.73" cy="112.02" rx="0.9" ry="0.68" fill="#30a045" fill-opacity="0.75"/>
<ellipse cx="341.31" cy="122.90" rx="0.9" ry="0.68" fill="#30a045" fill-opacity="0.75"/>
<ellipse cx="339.96" cy="126.74" rx="0.9" ry="0.68" fill="#30a045" fill-opacity="0.75"/>
<ellipse cx="338.23" cy="122.85" rx="0.9" ry="0.68" fill="#30a045" fill-opacity="0.75"/>
<ellipse cx="342.82" cy="122.94" rx="0.9" ry="0.68" fill="#30a045" fill-opacity="0.75"/>
<ellipse cx="339.69" cy="120.94" rx="0.9" ry="0.68" fill="#30a045" fill-opacity="0.75"/>
<ellipse cx="342.31" cy="120.41" rx="0.9" ry="0.68" fill="#30a045" fill-opacity="0.75"/>
<ellipse cx="346.41" cy="113.03" rx="0.9" ry="0.68" fill="#30a045" fill-opacity="0.75"/>
<ellipse cx="352.37" cy="107.97" rx="0.9" ry="0.68" fill="#30a045" fill-opacity="0.75"/>
<ellipse cx="345.71" cy="116.04" rx="0.9" ry="0.68" fill="#30a045" fill-opacity="0.75"/>
<ellipse cx="351.85" cy="107.66" rx="0.9" ry="0.68" fill="#30a045" fill-opacity="0.75"/>
<ellipse cx="353.10" cy="56.30" rx="0.9" ry="0.68" fill="#e84555" fill-opacity="0.75"/>
<ellipse cx="369.40" cy="39.60" rx="0.9" ry="0.68" fill="#e84555" fill-opacity="0.75"/>
<ellipse cx="380.20" cy="35.40" rx="0.9" ry="0.68" fill="#e84555" fill-opacity="0.75"/>
<ellipse cx="388.70" cy="35.90" rx="0.9" ry="0.68" fill="#e84555" fill-opacity="0.75"/>
<ellipse cx="371.70" cy="46.30" rx="0.9" ry="0.68" fill="#e84555" fill-opacity="0.75"/>
<ellipse cx="415.80" cy="34.30" rx="0.9" ry="0.68" fill="#e84555" fill-opacity="0.75"/>
<ellipse cx="388.00" cy="51.70" rx="0.9" ry="0.68" fill="#e84555" fill-opacity="0.75"/>
<ellipse cx="393.40" cy="54.80" rx="0.9" ry="0.68" fill="#e84555" fill-opacity="0.75"/>
<ellipse cx="391.00" cy="55.60" rx="0.9" ry="0.68" fill="#e84555" fill-opacity="0.75"/>
<ellipse cx="387.20" cy="57.10" rx="0.9" ry="0.68" fill="#e84555" fill-opacity="0.75"/>
<ellipse cx="384.80" cy="58.70" rx="0.9" ry="0.68" fill="#e84555" fill-opacity="0.75"/>
<ellipse cx="382.50" cy="60.20" rx="0.9" ry="0.68" fill="#e84555" fill-opacity="0.75"/>
<ellipse cx="377.90" cy="57.10" rx="0.9" ry="0.68" fill="#e84555" fill-opacity="0.75"/>
<ellipse cx="377.10" cy="61.00" rx="0.9" ry="0.68" fill="#e84555" fill-opacity="0.75"/>
<ellipse cx="381.00" cy="63.30" rx="0.9" ry="0.68" fill="#e84555" fill-opacity="0.75"/>
<ellipse cx="378.70" cy="64.80" rx="0.9" ry="0.68" fill="#e84555" fill-opacity="0.75"/>
<ellipse cx="388.70" cy="61.70" rx="0.9" ry="0.68" fill="#e84555" fill-opacity="0.75"/>
<ellipse cx="375.60" cy="67.20" rx="0.9" ry="0.68" fill="#e84555" fill-opacity="0.75"/>
<ellipse cx="373.20" cy="69.50" rx="0.9" ry="0.68" fill="#e84555" fill-opacity="0.75"/>
<ellipse cx="370.10" cy="71.80" rx="0.9" ry="0.68" fill="#e84555" fill-opacity="0.75"/>
<ellipse cx="371.70" cy="73.40" rx="0.9" ry="0.68" fill="#e84555" fill-opacity="0.75"/>
<ellipse cx="368.60" cy="74.90" rx="0.9" ry="0.68" fill="#e84555" fill-opacity="0.75"/>
<ellipse cx="365.50" cy="79.60" rx="0.9" ry="0.68" fill="#e84555" fill-opacity="0.75"/>
<ellipse cx="359.30" cy="80.30" rx="0.9" ry="0.68" fill="#e84555" fill-opacity="0.75"/>
<ellipse cx="370.10" cy="79.60" rx="0.9" ry="0.68" fill="#e84555" fill-opacity="0.75"/>
<ellipse cx="373.20" cy="78.00" rx="0.9" ry="0.68" fill="#e84555" fill-opacity="0.75"/>
<ellipse cx="377.90" cy="74.90" rx="0.9" ry="0.68" fill="#e84555" fill-opacity="0.75"/>
<ellipse cx="378.70" cy="67.90" rx="0.9" ry="0.68" fill="#e84555" fill-opacity="0.75"/>
<ellipse cx="374.80" cy="71.80" rx="0.9" ry="0.68" fill="#e84555" fill-opacity="0.75"/>
<ellipse cx="363.90" cy="83.40" rx="0.9" ry="0.68" fill="#e84555" fill-opacity="0.75"/>
<ellipse cx="353.10" cy="88.90" rx="0.9" ry="0.68" fill="#e84555" fill-opacity="0.75"/>
<ellipse cx="360.80" cy="89.60" rx="0.9" ry="0.68" fill="#e84555" fill-opacity="0.75"/>
<ellipse cx="357.70" cy="93.50" rx="0.9" ry="0.68" fill="#e84555" fill-opacity="0.75"/>
<ellipse cx="356.20" cy="94.30" rx="0.9" ry="0.68" fill="#e84555" fill-opacity="0.75"/>
<ellipse cx="390.00" cy="56.50" rx="0.9" ry="0.68" fill="#e84555" fill-opacity="0.75"/>
<ellipse cx="386.00" cy="55.00" rx="0.9" ry="0.68" fill="#e84555" fill-opacity="0.75"/>
<ellipse cx="383.00" cy="59.50" rx="0.9" ry="0.68" fill="#e84555" fill-opacity="0.75"/>
<ellipse cx="392.00" cy="53.50" rx="0.9" ry="0.68" fill="#e84555" fill-opacity="0.75"/>
<ellipse cx="380.00" cy="62.00" rx="0.9" ry="0.68" fill="#e84555" fill-opacity="0.75"/>
<ellipse cx="351.70" cy="26.40" rx="0.9" ry="0.68" fill="#e84555" fill-opacity="0.75"/>
<ellipse cx="340.30" cy="40.30" rx="0.9" ry="0.68" fill="#e84555" fill-opacity="0.75"/>
<ellipse cx="344.70" cy="48.70" rx="0.9" ry="0.68" fill="#e84555" fill-opacity="0.75"/>
<ellipse cx="341.60" cy="61.20" rx="0.9" ry="0.68" fill="#e84555" fill-opacity="0.75"/>
<ellipse cx="347.50" cy="71.80" rx="0.9" ry="0.68" fill="#e84555" fill-opacity="0.75"/>
<ellipse cx="343.90" cy="77.10" rx="0.9" ry="0.68" fill="#e84555" fill-opacity="0.75"/>
<ellipse cx="359.20" cy="77.10" rx="0.9" ry="0.68" fill="#e84555" fill-opacity="0.75"/>
<ellipse cx="353.10" cy="84.90" rx="0.9" ry="0.68" fill="#e84555" fill-opacity="0.75"/>
<ellipse cx="368.60" cy="83.40" rx="0.9" ry="0.68" fill="#333333" fill-opacity="0.75"/>
<ellipse cx="372.50" cy="81.90" rx="0.9" ry="0.68" fill="#333333" fill-opacity="0.75"/>
<ellipse cx="398.00" cy="64.00" rx="0.9" ry="0.68" fill="#333333" fill-opacity="0.75"/>
<ellipse cx="395.70" cy="77.20" rx="0.9" ry="0.68" fill="#30a045" fill-opacity="0.75"/>
<ellipse cx="371.80" cy="84.90" rx="0.9" ry="0.68" fill="#333333" fill-opacity="0.75"/>
<ellipse cx="355.00" cy="97.00" rx="0.9" ry="0.68" fill="#333333" fill-opacity="0.75"/>
<ellipse cx="358.00" cy="95.00" rx="0.9" ry="0.68" fill="#333333" fill-opacity="0.75"/>
<ellipse cx="352.00" cy="99.00" rx="0.9" ry="0.68" fill="#333333" fill-opacity="0.75"/>
<ellipse cx="361.00" cy="92.00" rx="0.9" ry="0.68" fill="#333333" fill-opacity="0.75"/>
<text x="316.80" y="141.60" font-family="'Liberation Sans', sans-serif" font-size="2.4" font-weight="normal" text-anchor="middle" fill="#555" stroke="#555" stroke-width="0.05">4</text>
<text x="329.14" y="141.60" font-family="'Liberation Sans', sans-serif" font-size="2.4" font-weight="normal" text-anchor="middle" fill="#555" stroke="#555" stroke-width="0.05">5</text>
<text x="341.48" y="141.60" font-family="'Liberation Sans', sans-serif" font-size="2.4" font-weight="normal" text-anchor="middle" fill="#555" stroke="#555" stroke-width="0.05">6</text>
<text x="353.82" y="141.60" font-family="'Liberation Sans', sans-serif" font-size="2.4" font-weight="normal" text-anchor="middle" fill="#555" stroke="#555" stroke-width="0.05">7</text>
<text x="366.16" y="141.60" font-family="'Liberation Sans', sans-serif" font-size="2.4" font-weight="normal" text-anchor="middle" fill="#555" stroke="#555" stroke-width="0.05">8</text>
<text x="378.50" y="141.60" font-family="'Liberation Sans', sans-serif" font-size="2.4" font-weight="normal" text-anchor="middle" fill="#555" stroke="#555" stroke-width="0.05">9</text>
<text x="390.84" y="141.60" font-family="'Liberation Sans', sans-serif" font-size="2.4" font-weight="normal" text-anchor="middle" fill="#555" stroke="#555" stroke-width="0.05">10</text>
<text x="403.18" y="141.60" font-family="'Liberation Sans', sans-serif" font-size="2.4" font-weight="normal" text-anchor="middle" fill="#555" stroke="#555" stroke-width="0.05">11</text>
<text x="415.52" y="141.60" font-family="'Liberation Sans', sans-serif" font-size="2.4" font-weight="normal" text-anchor="middle" fill="#555" stroke="#555" stroke-width="0.05">12</text>
<text x="427.86" y="141.60" font-family="'Liberation Sans', sans-serif" font-size="2.4" font-weight="normal" text-anchor="middle" fill="#555" stroke="#555" stroke-width="0.05">13</text>
<text x="440.20" y="141.60" font-family="'Liberation Sans', sans-serif" font-size="2.4" font-weight="normal" text-anchor="middle" fill="#555" stroke="#555" stroke-width="0.05">14</text>
<text x="315.60" y="139.05" font-family="'Liberation Sans', sans-serif" font-size="2.4" font-weight="normal" text-anchor="end" fill="#555" stroke="#555" stroke-width="0.05" transform="translate(315.60,0) scale(0.8,1) translate(-315.60,0)">4</text>
<text x="315.60" y="133.14" font-family="'Liberation Sans', sans-serif" font-size="2.4" font-weight="normal" text-anchor="end" fill="#555" stroke="#555" stroke-width="0.05" transform="translate(315.60,0) scale(0.8,1) translate(-315.60,0)">4.5</text>
<text x="315.60" y="127.23" font-family="'Liberation Sans', sans-serif" font-size="2.4" font-weight="normal" text-anchor="end" fill="#555" stroke="#555" stroke-width="0.05" transform="translate(315.60,0) scale(0.8,1) translate(-315.60,0)">5</text>
<text x="315.60" y="121.32" font-family="'Liberation Sans', sans-serif" font-size="2.4" font-weight="normal" text-anchor="end" fill="#555" stroke="#555" stroke-width="0.05" transform="translate(315.60,0) scale(0.8,1) translate(-315.60,0)">5.5</text>
<text x="315.60" y="115.41" font-family="'Liberation Sans', sans-serif" font-size="2.4" font-weight="normal" text-anchor="end" fill="#555" stroke="#555" stroke-width="0.05" transform="translate(315.60,0) scale(0.8,1) translate(-315.60,0)">6</text>
<text x="315.60" y="109.50" font-family="'Liberation Sans', sans-serif" font-size="2.4" font-weight="normal" text-anchor="end" fill="#555" stroke="#555" stroke-width="0.05" transform="translate(315.60,0) scale(0.8,1) translate(-315.60,0)">6.5</text>
<text x="315.60" y="103.59" font-family="'Liberation Sans', sans-serif" font-size="2.4" font-weight="normal" text-anchor="end" fill="#555" stroke="#555" stroke-width="0.05" transform="translate(315.60,0) scale(0.8,1) translate(-315.60,0)">7</text>
<text x="315.60" y="97.68" font-family="'Liberation Sans', sans-serif" font-size="2.4" font-weight="normal" text-anchor="end" fill="#555" stroke="#555" stroke-width="0.05" transform="translate(315.60,0) scale(0.8,1) translate(-315.60,0)">7.5</text>
<text x="315.60" y="91.77" font-family="'Liberation Sans', sans-serif" font-size="2.4" font-weight="normal" text-anchor="end" fill="#555" stroke="#555" stroke-width="0.05" transform="translate(315.60,0) scale(0.8,1) translate(-315.60,0)">8</text>
<text x="315.60" y="85.86" font-family="'Liberation Sans', sans-serif" font-size="2.4" font-weight="normal" text-anchor="end" fill="#555" stroke="#555" stroke-width="0.05" transform="translate(315.60,0) scale(0.8,1) translate(-315.60,0)">8.5</text>
<text x="315.60" y="79.95" font-family="'Liberation Sans', sans-serif" font-size="2.4" font-weight="normal" text-anchor="end" fill="#555" stroke="#555" stroke-width="0.05" transform="translate(315.60,0) scale(0.8,1) translate(-315.60,0)">9</text>
<text x="315.60" y="74.04" font-family="'Liberation Sans', sans-serif" font-size="2.4" font-weight="normal" text-anchor="end" fill="#555" stroke="#555" stroke-width="0.05" transform="translate(315.60,0) scale(0.8,1) translate(-315.60,0)">9.5</text>
<text x="315.60" y="68.13" font-family="'Liberation Sans', sans-serif" font-size="2.4" font-weight="normal" text-anchor="end" fill="#555" stroke="#555" stroke-width="0.05" transform="translate(315.60,0) scale(0.8,1) translate(-315.60,0)">10</text>
<text x="315.60" y="62.22" font-family="'Liberation Sans', sans-serif" font-size="2.4" font-weight="normal" text-anchor="end" fill="#555" stroke="#555" stroke-width="0.05" transform="translate(315.60,0) scale(0.8,1) translate(-315.60,0)">10.5</text>
<text x="315.60" y="56.31" font-family="'Liberation Sans', sans-serif" font-size="2.4" font-weight="normal" text-anchor="end" fill="#555" stroke="#555" stroke-width="0.05" transform="translate(315.60,0) scale(0.8,1) translate(-315.60,0)">11</text>
<text x="315.60" y="50.40" font-family="'Liberation Sans', sans-serif" font-size="2.4" font-weight="normal" text-anchor="end" fill="#555" stroke="#555" stroke-width="0.05" transform="translate(315.60,0) scale(0.8,1) translate(-315.60,0)">11.5</text>
<text x="315.60" y="44.49" font-family="'Liberation Sans', sans-serif" font-size="2.4" font-weight="normal" text-anchor="end" fill="#555" stroke="#555" stroke-width="0.05" transform="translate(315.60,0) scale(0.8,1) translate(-315.60,0)">12</text>
<text x="315.60" y="38.58" font-family="'Liberation Sans', sans-serif" font-size="2.4" font-weight="normal" text-anchor="end" fill="#555" stroke="#555" stroke-width="0.05" transform="translate(315.60,0) scale(0.8,1) translate(-315.60,0)">12.5</text>
<text x="315.60" y="32.67" font-family="'Liberation Sans', sans-serif" font-size="2.4" font-weight="normal" text-anchor="end" fill="#555" stroke="#555" stroke-width="0.05" transform="translate(315.60,0) scale(0.8,1) translate(-315.60,0)">13</text>
<text x="315.60" y="26.76" font-family="'Liberation Sans', sans-serif" font-size="2.4" font-weight="normal" text-anchor="end" fill="#555" stroke="#555" stroke-width="0.05" transform="translate(315.60,0) scale(0.8,1) translate(-315.60,0)">13.5</text>
<text x="315.60" y="20.85" font-family="'Liberation Sans', sans-serif" font-size="2.4" font-weight="normal" text-anchor="end" fill="#555" stroke="#555" stroke-width="0.05" transform="translate(315.60,0) scale(0.8,1) translate(-315.60,0)">14</text>
<text x="378.60" y="15.70" font-family="'Liberation Serif', serif" font-size="4.15" font-weight="bold" text-anchor="middle" fill="#000" textLength="59.1" lengthAdjust="spacingAndGlyphs" stroke="#000" stroke-width="0.1">SG-dietary and topical / Control</text>
<text x="376.60" y="147.00" font-family="'Liberation Serif', serif" font-size="4.15" font-weight="bold" text-anchor="middle" fill="#000" textLength="25.3" lengthAdjust="spacingAndGlyphs" stroke="#000" stroke-width="0.1">Control group</text>
<text transform="translate(13.80,79.50) rotate(-90)" x="0" y="1.45" font-family="'Liberation Serif', serif" font-size="4.15" font-weight="bold" text-anchor="middle" textLength="49.1" lengthAdjust="spacingAndGlyphs" stroke="#000" stroke-width="0.08">SG-topical treatment group</text>
<text transform="translate(158.80,79.60) rotate(-90)" x="0" y="1.45" font-family="'Liberation Serif', serif" font-size="4.15" font-weight="bold" text-anchor="middle" textLength="49.3" lengthAdjust="spacingAndGlyphs" stroke="#000" stroke-width="0.08">SG-dietary treatment group</text>
<text transform="translate(306.00,79.50) rotate(-90)" x="0" y="1.45" font-family="'Liberation Serif', serif" font-size="4.15" font-weight="bold" text-anchor="middle" textLength="68.1" lengthAdjust="spacingAndGlyphs" stroke="#000" stroke-width="0.08">SG-dietary and topical treatment group</text>
<text x="8.80" y="159.50" font-family="'Liberation Serif', serif" font-size="12.3" font-weight="bold" text-anchor="start" fill="#000" stroke="#000" stroke-width="0.22">(A)</text>
<text x="167.00" y="158.80" font-family="'Liberation Serif', serif" font-size="12.3" font-weight="bold" text-anchor="start" fill="#000" stroke="#000" stroke-width="0.22">(B)</text>
<text x="317.00" y="158.60" font-family="'Liberation Serif', serif" font-size="12.3" font-weight="bold" text-anchor="start" fill="#000" stroke="#000" stroke-width="0.22">(C)</text>
<text x="8.80" y="288.40" font-family="'Liberation Serif', serif" font-size="12.3" font-weight="bold" text-anchor="start" fill="#000" stroke="#000" stroke-width="0.22">(D)</text>
<text x="8.80" y="409.40" font-family="'Liberation Serif', serif" font-size="12.3" font-weight="bold" text-anchor="start" fill="#000" stroke="#000" stroke-width="0.22">(E)</text>
<text x="7.70" y="537.80" font-family="'Liberation Serif', serif" font-size="12.3" font-weight="bold" text-anchor="start" fill="#000" stroke="#000" stroke-width="0.22">(F)</text>
<g stroke="#e9e9e9" stroke-width="0.55">
<line x1="122.20" y1="187.60" x2="122.20" y2="275"/>
<line x1="144.80" y1="187.60" x2="144.80" y2="275"/>
<line x1="167.40" y1="187.60" x2="167.40" y2="275"/>
<line x1="190.00" y1="187.60" x2="190.00" y2="275"/>
<line x1="212.60" y1="187.60" x2="212.60" y2="275"/>
</g>
<text x="121.60" y="184.85" font-family="'Liberation Sans', sans-serif" font-size="3.45" font-weight="normal" text-anchor="middle" fill="#555" stroke="#555" stroke-width="0.07">0.000</text>
<text x="144.20" y="184.85" font-family="'Liberation Sans', sans-serif" font-size="3.45" font-weight="normal" text-anchor="middle" fill="#555" stroke="#555" stroke-width="0.07">2.000</text>
<text x="166.80" y="184.85" font-family="'Liberation Sans', sans-serif" font-size="3.45" font-weight="normal" text-anchor="middle" fill="#555" stroke="#555" stroke-width="0.07">4.000</text>
<text x="189.40" y="184.85" font-family="'Liberation Sans', sans-serif" font-size="3.45" font-weight="normal" text-anchor="middle" fill="#555" stroke="#555" stroke-width="0.07">6.000</text>
<text x="212.00" y="184.85" font-family="'Liberation Sans', sans-serif" font-size="3.45" font-weight="normal" text-anchor="middle" fill="#555" stroke="#555" stroke-width="0.07">8.000</text>
<text x="203.90" y="176.80" font-family="'Liberation Sans', sans-serif" font-size="3.43" font-weight="normal" text-anchor="middle" fill="#707070" stroke="#707070" stroke-width="0.06" textLength="23.4" lengthAdjust="spacingAndGlyphs">-log10 (p-value)</text>
<rect x="122.20" y="191.20" width="94.00" height="3.8" fill="#1394d4"/>
<text x="118.80" y="194.30" font-family="'Liberation Sans', sans-serif" font-size="3.43" font-weight="normal" text-anchor="end" fill="#575757" stroke="#575757" stroke-width="0.07">GO:0032496~response to lipopolysaccharide</text>
<rect x="122.20" y="199.89" width="75.30" height="3.8" fill="#1394d4"/>
<text x="118.80" y="202.99" font-family="'Liberation Sans', sans-serif" font-size="3.43" font-weight="normal" text-anchor="end" fill="#575757" stroke="#575757" stroke-width="0.07">GO:0006954~inflammatory response</text>
<rect x="122.20" y="208.58" width="52.00" height="3.8" fill="#1394d4"/>
<text x="118.80" y="211.68" font-family="'Liberation Sans', sans-serif" font-size="3.43" font-weight="normal" text-anchor="end" fill="#575757" stroke="#575757" stroke-width="0.07">GO:0006955~immune response</text>
<rect x="122.20" y="217.27" width="43.80" height="3.8" fill="#1394d4"/>
<text x="118.80" y="220.37" font-family="'Liberation Sans', sans-serif" font-size="3.43" font-weight="normal" text-anchor="end" fill="#575757" stroke="#575757" stroke-width="0.07">GO:0051384~response to glucocorticoid</text>
<rect x="122.20" y="225.96" width="43.00" height="3.8" fill="#1394d4"/>
<text x="118.80" y="229.06" font-family="'Liberation Sans', sans-serif" font-size="3.43" font-weight="normal" text-anchor="end" fill="#575757" stroke="#575757" stroke-width="0.07">GO:0045087~innate immune response</text>
<rect x="122.20" y="234.64" width="41.70" height="3.8" fill="#1394d4"/>
<text x="118.80" y="237.74" font-family="'Liberation Sans', sans-serif" font-size="3.43" font-weight="normal" text-anchor="end" fill="#575757" stroke="#575757" stroke-width="0.07">GO:0042127~regulation of cell proliferation</text>
<rect x="122.20" y="243.33" width="40.70" height="3.8" fill="#1394d4"/>
<text x="118.80" y="246.43" font-family="'Liberation Sans', sans-serif" font-size="3.43" font-weight="normal" text-anchor="end" fill="#575757" stroke="#575757" stroke-width="0.07">GO:0042060~wound healing</text>
<rect x="122.20" y="252.02" width="37.60" height="3.8" fill="#1394d4"/>
<text x="118.80" y="255.12" font-family="'Liberation Sans', sans-serif" font-size="3.43" font-weight="normal" text-anchor="end" fill="#575757" stroke="#575757" stroke-width="0.07">GO:0045471~response to ethanol</text>
<rect x="122.20" y="260.71" width="34.00" height="3.8" fill="#1394d4"/>
<text x="118.80" y="263.81" font-family="'Liberation Sans', sans-serif" font-size="3.43" font-weight="normal" text-anchor="end" fill="#575757" stroke="#575757" stroke-width="0.07">GO:0042493~response to drug</text>
<rect x="122.20" y="269.40" width="31.90" height="3.8" fill="#1394d4"/>
<text x="118.80" y="272.50" font-family="'Liberation Sans', sans-serif" font-size="3.43" font-weight="normal" text-anchor="end" fill="#575757" stroke="#575757" stroke-width="0.07">GO:0002376~immune system process</text>
<g stroke="#e9e9e9" stroke-width="0.55">
<line x1="326.60" y1="186.60" x2="326.60" y2="245"/>
<line x1="341.26" y1="186.60" x2="341.26" y2="245"/>
<line x1="355.92" y1="186.60" x2="355.92" y2="245"/>
<line x1="370.58" y1="186.60" x2="370.58" y2="245"/>
<line x1="385.24" y1="186.60" x2="385.24" y2="245"/>
<line x1="399.90" y1="186.60" x2="399.90" y2="245"/>
<line x1="414.56" y1="186.60" x2="414.56" y2="245"/>
<line x1="429.22" y1="186.60" x2="429.22" y2="245"/>
</g>
<text x="326.00" y="183.85" font-family="'Liberation Sans', sans-serif" font-size="3.45" font-weight="normal" text-anchor="middle" fill="#555" stroke="#555" stroke-width="0.07">0.000</text>
<text x="340.66" y="183.85" font-family="'Liberation Sans', sans-serif" font-size="3.45" font-weight="normal" text-anchor="middle" fill="#555" stroke="#555" stroke-width="0.07">2.000</text>
<text x="355.32" y="183.85" font-family="'Liberation Sans', sans-serif" font-size="3.45" font-weight="normal" text-anchor="middle" fill="#555" stroke="#555" stroke-width="0.07">4.000</text>
<text x="369.98" y="183.85" font-family="'Liberation Sans', sans-serif" font-size="3.45" font-weight="normal" text-anchor="middle" fill="#555" stroke="#555" stroke-width="0.07">6.000</text>
<text x="384.64" y="183.85" font-family="'Liberation Sans', sans-serif" font-size="3.45" font-weight="normal" text-anchor="middle" fill="#555" stroke="#555" stroke-width="0.07">8.000</text>
<text x="399.30" y="183.85" font-family="'Liberation Sans', sans-serif" font-size="3.45" font-weight="normal" text-anchor="middle" fill="#555" stroke="#555" stroke-width="0.07">10.000</text>
<text x="413.96" y="183.85" font-family="'Liberation Sans', sans-serif" font-size="3.45" font-weight="normal" text-anchor="middle" fill="#555" stroke="#555" stroke-width="0.07">12.000</text>
<text x="428.62" y="183.85" font-family="'Liberation Sans', sans-serif" font-size="3.45" font-weight="normal" text-anchor="middle" fill="#555" stroke="#555" stroke-width="0.07">14.000</text>
<text x="396.90" y="175.90" font-family="'Liberation Sans', sans-serif" font-size="3.43" font-weight="normal" text-anchor="middle" fill="#707070" stroke="#707070" stroke-width="0.06" textLength="23.4" lengthAdjust="spacingAndGlyphs">-log10 (p-value)</text>
<rect x="326.60" y="191.30" width="92.40" height="3.8" fill="#1394d4"/>
<text x="323.20" y="194.40" font-family="'Liberation Sans', sans-serif" font-size="3.55" font-weight="normal" text-anchor="end" fill="#575757" stroke="#575757" stroke-width="0.07" textLength="77.90" lengthAdjust="spacingAndGlyphs">mmu04060:Cytokine-cytokine receptor interaction</text>
<rect x="326.60" y="202.90" width="30.30" height="3.8" fill="#1394d4"/>
<text x="323.20" y="206.00" font-family="'Liberation Sans', sans-serif" font-size="3.55" font-weight="normal" text-anchor="end" fill="#575757" stroke="#575757" stroke-width="0.07" textLength="60.00" lengthAdjust="spacingAndGlyphs">mmu04151:PI3K-Akt signaling pathway</text>
<rect x="326.60" y="214.50" width="21.00" height="3.8" fill="#1394d4"/>
<text x="323.20" y="217.60" font-family="'Liberation Sans', sans-serif" font-size="3.55" font-weight="normal" text-anchor="end" fill="#575757" stroke="#575757" stroke-width="0.07" textLength="85.00" lengthAdjust="spacingAndGlyphs">mmu05142:Chagas disease (American trypanosomiasis)</text>
<rect x="326.60" y="226.10" width="20.20" height="3.8" fill="#1394d4"/>
<text x="323.20" y="229.20" font-family="'Liberation Sans', sans-serif" font-size="3.55" font-weight="normal" text-anchor="end" fill="#575757" stroke="#575757" stroke-width="0.07" textLength="52.70" lengthAdjust="spacingAndGlyphs">mmu04668:TNF signaling pathway</text>
<rect x="326.60" y="237.70" width="19.10" height="3.8" fill="#1394d4"/>
<text x="323.20" y="240.80" font-family="'Liberation Sans', sans-serif" font-size="3.55" font-weight="normal" text-anchor="end" fill="#575757" stroke="#575757" stroke-width="0.07" textLength="58.00" lengthAdjust="spacingAndGlyphs">mmu04380:Osteoclast differentiation</text>
<g stroke="#e9e9e9" stroke-width="0.55">
<line x1="122.20" y1="308.60" x2="122.20" y2="396"/>
<line x1="139.20" y1="308.60" x2="139.20" y2="396"/>
<line x1="156.20" y1="308.60" x2="156.20" y2="396"/>
<line x1="173.20" y1="308.60" x2="173.20" y2="396"/>
<line x1="190.20" y1="308.60" x2="190.20" y2="396"/>
<line x1="207.20" y1="308.60" x2="207.20" y2="396"/>
<line x1="224.20" y1="308.60" x2="224.20" y2="396"/>
</g>
<text x="121.60" y="305.85" font-family="'Liberation Sans', sans-serif" font-size="3.45" font-weight="normal" text-anchor="middle" fill="#555" stroke="#555" stroke-width="0.07">0.000</text>
<text x="138.60" y="305.85" font-family="'Liberation Sans', sans-serif" font-size="3.45" font-weight="normal" text-anchor="middle" fill="#555" stroke="#555" stroke-width="0.07">2.000</text>
<text x="155.60" y="305.85" font-family="'Liberation Sans', sans-serif" font-size="3.45" font-weight="normal" text-anchor="middle" fill="#555" stroke="#555" stroke-width="0.07">4.000</text>
<text x="172.60" y="305.85" font-family="'Liberation Sans', sans-serif" font-size="3.45" font-weight="normal" text-anchor="middle" fill="#555" stroke="#555" stroke-width="0.07">6.000</text>
<text x="189.60" y="305.85" font-family="'Liberation Sans', sans-serif" font-size="3.45" font-weight="normal" text-anchor="middle" fill="#555" stroke="#555" stroke-width="0.07">8.000</text>
<text x="206.60" y="305.85" font-family="'Liberation Sans', sans-serif" font-size="3.45" font-weight="normal" text-anchor="middle" fill="#555" stroke="#555" stroke-width="0.07">10.000</text>
<text x="223.60" y="305.85" font-family="'Liberation Sans', sans-serif" font-size="3.45" font-weight="normal" text-anchor="middle" fill="#555" stroke="#555" stroke-width="0.07">12.000</text>
<text x="187.00" y="296.80" font-family="'Liberation Sans', sans-serif" font-size="3.43" font-weight="normal" text-anchor="middle" fill="#707070" stroke="#707070" stroke-width="0.06" textLength="23.4" lengthAdjust="spacingAndGlyphs">-log10 (p-value)</text>
<rect x="122.20" y="312.20" width="101.20" height="3.8" fill="#1394d4"/>
<text x="118.80" y="315.30" font-family="'Liberation Sans', sans-serif" font-size="3.43" font-weight="normal" text-anchor="end" fill="#575757" stroke="#575757" stroke-width="0.07">GO:0006955~immune response</text>
<rect x="122.20" y="320.86" width="51.20" height="3.8" fill="#1394d4"/>
<text x="118.80" y="323.96" font-family="'Liberation Sans', sans-serif" font-size="3.43" font-weight="normal" text-anchor="end" fill="#575757" stroke="#575757" stroke-width="0.07" textLength="82.90" lengthAdjust="spacingAndGlyphs">GO:0070098~chemokine-mediated signaling pathway</text>
<rect x="122.20" y="329.51" width="44.30" height="3.8" fill="#1394d4"/>
<text x="118.80" y="332.61" font-family="'Liberation Sans', sans-serif" font-size="3.43" font-weight="normal" text-anchor="end" fill="#575757" stroke="#575757" stroke-width="0.07">GO:0006954~inflammatory response</text>
<rect x="122.20" y="338.17" width="41.70" height="3.8" fill="#1394d4"/>
<text x="118.80" y="341.27" font-family="'Liberation Sans', sans-serif" font-size="3.43" font-weight="normal" text-anchor="end" fill="#575757" stroke="#575757" stroke-width="0.07">GO:0007267~cell-cell signaling</text>
<rect x="122.20" y="346.82" width="34.10" height="3.8" fill="#1394d4"/>
<text x="118.80" y="349.92" font-family="'Liberation Sans', sans-serif" font-size="3.43" font-weight="normal" text-anchor="end" fill="#575757" stroke="#575757" stroke-width="0.07" textLength="90.00" lengthAdjust="spacingAndGlyphs">GO:0014068~positive regulation of phosphatidylinositol 3-...</text>
<rect x="122.20" y="355.48" width="33.20" height="3.8" fill="#1394d4"/>
<text x="118.80" y="358.58" font-family="'Liberation Sans', sans-serif" font-size="3.43" font-weight="normal" text-anchor="end" fill="#575757" stroke="#575757" stroke-width="0.07" textLength="90.50" lengthAdjust="spacingAndGlyphs">GO:0070374~positive regulation of ERK1 and ERK2 cascade</text>
<rect x="122.20" y="364.13" width="31.90" height="3.8" fill="#1394d4"/>
<text x="118.80" y="367.23" font-family="'Liberation Sans', sans-serif" font-size="3.43" font-weight="normal" text-anchor="end" fill="#575757" stroke="#575757" stroke-width="0.07">GO:0060326~cell chemotaxis</text>
<rect x="122.20" y="372.79" width="27.60" height="3.8" fill="#1394d4"/>
<text x="118.80" y="375.89" font-family="'Liberation Sans', sans-serif" font-size="3.43" font-weight="normal" text-anchor="end" fill="#575757" stroke="#575757" stroke-width="0.07">GO:0006935~chemotaxis</text>
<rect x="122.20" y="381.44" width="25.80" height="3.8" fill="#1394d4"/>
<text x="118.80" y="384.54" font-family="'Liberation Sans', sans-serif" font-size="3.43" font-weight="normal" text-anchor="end" fill="#575757" stroke="#575757" stroke-width="0.07" textLength="57.40" lengthAdjust="spacingAndGlyphs">GO:0048247~lymphocyte chemotaxis</text>
<rect x="122.20" y="390.10" width="24.50" height="3.8" fill="#1394d4"/>
<text x="118.80" y="393.20" font-family="'Liberation Sans', sans-serif" font-size="3.43" font-weight="normal" text-anchor="end" fill="#575757" stroke="#575757" stroke-width="0.07">GO:0043491~protein kinase B signaling</text>
<g stroke="#e9e9e9" stroke-width="0.55">
<line x1="326.30" y1="307.50" x2="326.30" y2="367.6"/>
<line x1="340.96" y1="307.50" x2="340.96" y2="367.6"/>
<line x1="355.62" y1="307.50" x2="355.62" y2="367.6"/>
<line x1="370.28" y1="307.50" x2="370.28" y2="367.6"/>
<line x1="384.94" y1="307.50" x2="384.94" y2="367.6"/>
<line x1="399.60" y1="307.50" x2="399.60" y2="367.6"/>
<line x1="414.26" y1="307.50" x2="414.26" y2="367.6"/>
<line x1="428.92" y1="307.50" x2="428.92" y2="367.6"/>
</g>
<text x="325.70" y="304.75" font-family="'Liberation Sans', sans-serif" font-size="3.45" font-weight="normal" text-anchor="middle" fill="#555" stroke="#555" stroke-width="0.07">0.000</text>
<text x="340.36" y="304.75" font-family="'Liberation Sans', sans-serif" font-size="3.45" font-weight="normal" text-anchor="middle" fill="#555" stroke="#555" stroke-width="0.07">2.000</text>
<text x="355.02" y="304.75" font-family="'Liberation Sans', sans-serif" font-size="3.45" font-weight="normal" text-anchor="middle" fill="#555" stroke="#555" stroke-width="0.07">4.000</text>
<text x="369.68" y="304.75" font-family="'Liberation Sans', sans-serif" font-size="3.45" font-weight="normal" text-anchor="middle" fill="#555" stroke="#555" stroke-width="0.07">6.000</text>
<text x="384.34" y="304.75" font-family="'Liberation Sans', sans-serif" font-size="3.45" font-weight="normal" text-anchor="middle" fill="#555" stroke="#555" stroke-width="0.07">8.000</text>
<text x="399.00" y="304.75" font-family="'Liberation Sans', sans-serif" font-size="3.45" font-weight="normal" text-anchor="middle" fill="#555" stroke="#555" stroke-width="0.07">10.000</text>
<text x="413.66" y="304.75" font-family="'Liberation Sans', sans-serif" font-size="3.45" font-weight="normal" text-anchor="middle" fill="#555" stroke="#555" stroke-width="0.07">12.000</text>
<text x="428.32" y="304.75" font-family="'Liberation Sans', sans-serif" font-size="3.45" font-weight="normal" text-anchor="middle" fill="#555" stroke="#555" stroke-width="0.07">14.000</text>
<text x="403.60" y="295.80" font-family="'Liberation Sans', sans-serif" font-size="3.43" font-weight="normal" text-anchor="middle" fill="#707070" stroke="#707070" stroke-width="0.06" textLength="23.4" lengthAdjust="spacingAndGlyphs">-log10 (p-value)</text>
<rect x="326.30" y="311.85" width="96.70" height="3.8" fill="#1394d4"/>
<text x="322.90" y="314.95" font-family="'Liberation Sans', sans-serif" font-size="3.55" font-weight="normal" text-anchor="end" fill="#575757" stroke="#575757" stroke-width="0.07" textLength="78.00" lengthAdjust="spacingAndGlyphs">mmu04060:Cytokine-cytokine receptor interaction</text>
<rect x="326.30" y="323.39" width="24.50" height="3.8" fill="#1394d4"/>
<text x="322.90" y="326.49" font-family="'Liberation Sans', sans-serif" font-size="3.55" font-weight="normal" text-anchor="end" fill="#575757" stroke="#575757" stroke-width="0.07" textLength="60.80" lengthAdjust="spacingAndGlyphs">mmu04630:Jak-STAT signaling pathway</text>
<rect x="326.30" y="334.93" width="20.80" height="3.8" fill="#1394d4"/>
<text x="322.90" y="338.02" font-family="'Liberation Sans', sans-serif" font-size="3.55" font-weight="normal" text-anchor="end" fill="#575757" stroke="#575757" stroke-width="0.07" textLength="64.00" lengthAdjust="spacingAndGlyphs">mmu04062:Chemokine signaling pathway</text>
<rect x="326.30" y="346.46" width="12.50" height="3.8" fill="#1394d4"/>
<text x="322.90" y="349.56" font-family="'Liberation Sans', sans-serif" font-size="3.55" font-weight="normal" text-anchor="end" fill="#575757" stroke="#575757" stroke-width="0.07" textLength="50.70" lengthAdjust="spacingAndGlyphs">mmu05323:Rheumatoid arthritis</text>
<rect x="326.30" y="358.00" width="11.70" height="3.8" fill="#1394d4"/>
<text x="322.90" y="361.10" font-family="'Liberation Sans', sans-serif" font-size="3.55" font-weight="normal" text-anchor="end" fill="#575757" stroke="#575757" stroke-width="0.07" textLength="64.80" lengthAdjust="spacingAndGlyphs">mmu04064:NF-kappa B signaling pathway</text>
<g stroke="#e9e9e9" stroke-width="0.55">
<line x1="122.10" y1="433.60" x2="122.10" y2="521.5"/>
<line x1="139.00" y1="433.60" x2="139.00" y2="521.5"/>
<line x1="155.90" y1="433.60" x2="155.90" y2="521.5"/>
<line x1="172.80" y1="433.60" x2="172.80" y2="521.5"/>
<line x1="189.70" y1="433.60" x2="189.70" y2="521.5"/>
<line x1="206.60" y1="433.60" x2="206.60" y2="521.5"/>
<line x1="223.50" y1="433.60" x2="223.50" y2="521.5"/>
</g>
<text x="121.50" y="430.85" font-family="'Liberation Sans', sans-serif" font-size="3.45" font-weight="normal" text-anchor="middle" fill="#555" stroke="#555" stroke-width="0.07">0.000</text>
<text x="138.40" y="430.85" font-family="'Liberation Sans', sans-serif" font-size="3.45" font-weight="normal" text-anchor="middle" fill="#555" stroke="#555" stroke-width="0.07">2.000</text>
<text x="155.30" y="430.85" font-family="'Liberation Sans', sans-serif" font-size="3.45" font-weight="normal" text-anchor="middle" fill="#555" stroke="#555" stroke-width="0.07">4.000</text>
<text x="172.20" y="430.85" font-family="'Liberation Sans', sans-serif" font-size="3.45" font-weight="normal" text-anchor="middle" fill="#555" stroke="#555" stroke-width="0.07">6.000</text>
<text x="189.10" y="430.85" font-family="'Liberation Sans', sans-serif" font-size="3.45" font-weight="normal" text-anchor="middle" fill="#555" stroke="#555" stroke-width="0.07">8.000</text>
<text x="206.00" y="430.85" font-family="'Liberation Sans', sans-serif" font-size="3.45" font-weight="normal" text-anchor="middle" fill="#555" stroke="#555" stroke-width="0.07">10.000</text>
<text x="222.90" y="430.85" font-family="'Liberation Sans', sans-serif" font-size="3.45" font-weight="normal" text-anchor="middle" fill="#555" stroke="#555" stroke-width="0.07">12.000</text>
<text x="180.60" y="421.80" font-family="'Liberation Sans', sans-serif" font-size="3.43" font-weight="normal" text-anchor="middle" fill="#707070" stroke="#707070" stroke-width="0.06" textLength="23.4" lengthAdjust="spacingAndGlyphs">-log10 (p-value)</text>
<rect x="122.10" y="436.70" width="94.90" height="3.8" fill="#1394d4"/>
<text x="118.70" y="439.80" font-family="'Liberation Sans', sans-serif" font-size="3.43" font-weight="normal" text-anchor="end" fill="#575757" stroke="#575757" stroke-width="0.07">GO:0006955~immune response</text>
<rect x="122.10" y="445.39" width="67.70" height="3.8" fill="#1394d4"/>
<text x="118.70" y="448.49" font-family="'Liberation Sans', sans-serif" font-size="3.43" font-weight="normal" text-anchor="end" fill="#575757" stroke="#575757" stroke-width="0.07" textLength="107.10" lengthAdjust="spacingAndGlyphs">GO:0050731~positive regulation of peptidyl-tyrosine phosphorylation</text>
<rect x="122.10" y="454.08" width="63.90" height="3.8" fill="#1394d4"/>
<text x="118.70" y="457.18" font-family="'Liberation Sans', sans-serif" font-size="3.43" font-weight="normal" text-anchor="end" fill="#575757" stroke="#575757" stroke-width="0.07">GO:0006935~chemotaxis</text>
<rect x="122.10" y="462.77" width="54.40" height="3.8" fill="#1394d4"/>
<text x="118.70" y="465.87" font-family="'Liberation Sans', sans-serif" font-size="3.43" font-weight="normal" text-anchor="end" fill="#575757" stroke="#575757" stroke-width="0.07" textLength="82.10" lengthAdjust="spacingAndGlyphs">GO:0070098~chemokine-mediated signaling pathway</text>
<rect x="122.10" y="471.46" width="49.00" height="3.8" fill="#1394d4"/>
<text x="118.70" y="474.56" font-family="'Liberation Sans', sans-serif" font-size="3.43" font-weight="normal" text-anchor="end" fill="#575757" stroke="#575757" stroke-width="0.07" textLength="79.80" lengthAdjust="spacingAndGlyphs">GO:0008284~positive regulation of cell proliferation</text>
<rect x="122.10" y="480.14" width="45.90" height="3.8" fill="#1394d4"/>
<text x="118.70" y="483.24" font-family="'Liberation Sans', sans-serif" font-size="3.43" font-weight="normal" text-anchor="end" fill="#575757" stroke="#575757" stroke-width="0.07">GO:0006954~inflammatory response</text>
<rect x="122.10" y="488.83" width="38.70" height="3.8" fill="#1394d4"/>
<text x="118.70" y="491.93" font-family="'Liberation Sans', sans-serif" font-size="3.43" font-weight="normal" text-anchor="end" fill="#575757" stroke="#575757" stroke-width="0.07" textLength="90.60" lengthAdjust="spacingAndGlyphs">GO:0050729~positive regulation of inflammatory response</text>
<rect x="122.10" y="497.52" width="35.60" height="3.8" fill="#1394d4"/>
<text x="118.70" y="500.62" font-family="'Liberation Sans', sans-serif" font-size="3.43" font-weight="normal" text-anchor="end" fill="#575757" stroke="#575757" stroke-width="0.07">GO:0060326~cell chemotaxis</text>
<rect x="122.10" y="506.21" width="34.90" height="3.8" fill="#1394d4"/>
<text x="118.70" y="509.31" font-family="'Liberation Sans', sans-serif" font-size="3.43" font-weight="normal" text-anchor="end" fill="#575757" stroke="#575757" stroke-width="0.07" textLength="81.50" lengthAdjust="spacingAndGlyphs">GO:0008285~negative regulation of cell proliferation</text>
<rect x="122.10" y="514.90" width="34.30" height="3.8" fill="#1394d4"/>
<text x="118.70" y="518.00" font-family="'Liberation Sans', sans-serif" font-size="3.43" font-weight="normal" text-anchor="end" fill="#575757" stroke="#575757" stroke-width="0.07" textLength="92.80" lengthAdjust="spacingAndGlyphs">GO:0045071~negative regulation of viral genome replication</text>
<g stroke="#e9e9e9" stroke-width="0.55">
<line x1="326.20" y1="432.40" x2="326.20" y2="492.6"/>
<line x1="343.35" y1="432.40" x2="343.35" y2="492.6"/>
<line x1="360.50" y1="432.40" x2="360.50" y2="492.6"/>
<line x1="377.65" y1="432.40" x2="377.65" y2="492.6"/>
<line x1="394.80" y1="432.40" x2="394.80" y2="492.6"/>
<line x1="411.95" y1="432.40" x2="411.95" y2="492.6"/>
<line x1="429.10" y1="432.40" x2="429.10" y2="492.6"/>
</g>
<text x="325.60" y="429.65" font-family="'Liberation Sans', sans-serif" font-size="3.45" font-weight="normal" text-anchor="middle" fill="#555" stroke="#555" stroke-width="0.07">0.000</text>
<text x="342.75" y="429.65" font-family="'Liberation Sans', sans-serif" font-size="3.45" font-weight="normal" text-anchor="middle" fill="#555" stroke="#555" stroke-width="0.07">5.000</text>
<text x="359.90" y="429.65" font-family="'Liberation Sans', sans-serif" font-size="3.45" font-weight="normal" text-anchor="middle" fill="#555" stroke="#555" stroke-width="0.07">10.000</text>
<text x="377.05" y="429.65" font-family="'Liberation Sans', sans-serif" font-size="3.45" font-weight="normal" text-anchor="middle" fill="#555" stroke="#555" stroke-width="0.07">15.000</text>
<text x="394.20" y="429.65" font-family="'Liberation Sans', sans-serif" font-size="3.45" font-weight="normal" text-anchor="middle" fill="#555" stroke="#555" stroke-width="0.07">20.000</text>
<text x="411.35" y="429.65" font-family="'Liberation Sans', sans-serif" font-size="3.45" font-weight="normal" text-anchor="middle" fill="#555" stroke="#555" stroke-width="0.07">25.000</text>
<text x="428.50" y="429.65" font-family="'Liberation Sans', sans-serif" font-size="3.45" font-weight="normal" text-anchor="middle" fill="#555" stroke="#555" stroke-width="0.07">30.000</text>
<text x="399.60" y="421.40" font-family="'Liberation Sans', sans-serif" font-size="3.43" font-weight="normal" text-anchor="middle" fill="#707070" stroke="#707070" stroke-width="0.06" textLength="23.4" lengthAdjust="spacingAndGlyphs">-log10 (p-value)</text>
<rect x="326.20" y="436.90" width="91.80" height="3.8" fill="#1394d4"/>
<text x="322.80" y="440.00" font-family="'Liberation Sans', sans-serif" font-size="3.55" font-weight="normal" text-anchor="end" fill="#575757" stroke="#575757" stroke-width="0.07" textLength="77.90" lengthAdjust="spacingAndGlyphs">mmu04060:Cytokine-cytokine receptor interaction</text>
<rect x="326.20" y="448.45" width="23.50" height="3.8" fill="#1394d4"/>
<text x="322.80" y="451.55" font-family="'Liberation Sans', sans-serif" font-size="3.55" font-weight="normal" text-anchor="end" fill="#575757" stroke="#575757" stroke-width="0.07" textLength="60.70" lengthAdjust="spacingAndGlyphs">mmu04630:Jak-STAT signaling pathway</text>
<rect x="326.20" y="460.00" width="19.80" height="3.8" fill="#1394d4"/>
<text x="322.80" y="463.10" font-family="'Liberation Sans', sans-serif" font-size="3.55" font-weight="normal" text-anchor="end" fill="#575757" stroke="#575757" stroke-width="0.07" textLength="63.90" lengthAdjust="spacingAndGlyphs">mmu04062:Chemokine signaling pathway</text>
<rect x="326.20" y="471.55" width="15.60" height="3.8" fill="#1394d4"/>
<text x="322.80" y="474.65" font-family="'Liberation Sans', sans-serif" font-size="3.55" font-weight="normal" text-anchor="end" fill="#575757" stroke="#575757" stroke-width="0.07" textLength="58.90" lengthAdjust="spacingAndGlyphs">mmu04640:Hematopoietic cell lineage</text>
<rect x="326.20" y="483.10" width="10.80" height="3.8" fill="#1394d4"/>
<text x="322.80" y="486.20" font-family="'Liberation Sans', sans-serif" font-size="3.55" font-weight="normal" text-anchor="end" fill="#575757" stroke="#575757" stroke-width="0.07" textLength="60.30" lengthAdjust="spacingAndGlyphs">mmu04151:PI3K-Akt signaling pathway</text>
<text x="131.00" y="288.10" font-family="'Liberation Serif', serif" font-size="6.6" font-weight="bold" text-anchor="middle" fill="#000" textLength="56.8" lengthAdjust="spacingAndGlyphs" stroke="#000" stroke-width="0.1">Enrichment GO_BP</text>
<text x="349.00" y="288.10" font-family="'Liberation Serif', serif" font-size="6.6" font-weight="bold" text-anchor="middle" fill="#000" textLength="54.6" lengthAdjust="spacingAndGlyphs" stroke="#000" stroke-width="0.1">Enrichment KEGG</text>
<text x="130.60" y="408.80" font-family="'Liberation Serif', serif" font-size="6.6" font-weight="bold" text-anchor="middle" fill="#000" textLength="56.3" lengthAdjust="spacingAndGlyphs" stroke="#000" stroke-width="0.1">Enrichment GO_BP</text>
<text x="349.00" y="408.70" font-family="'Liberation Serif', serif" font-size="6.6" font-weight="bold" text-anchor="middle" fill="#000" textLength="54.6" lengthAdjust="spacingAndGlyphs" stroke="#000" stroke-width="0.1">Enrichment KEGG</text>
<text x="130.60" y="533.30" font-family="'Liberation Serif', serif" font-size="6.6" font-weight="bold" text-anchor="middle" fill="#000" textLength="56.3" lengthAdjust="spacingAndGlyphs" stroke="#000" stroke-width="0.1">Enrichment GO_BP</text>
<text x="349.00" y="533.30" font-family="'Liberation Serif', serif" font-size="6.6" font-weight="bold" text-anchor="middle" fill="#000" textLength="54.6" lengthAdjust="spacingAndGlyphs" stroke="#000" stroke-width="0.1">Enrichment KEGG</text>
</svg>
</body></html>
